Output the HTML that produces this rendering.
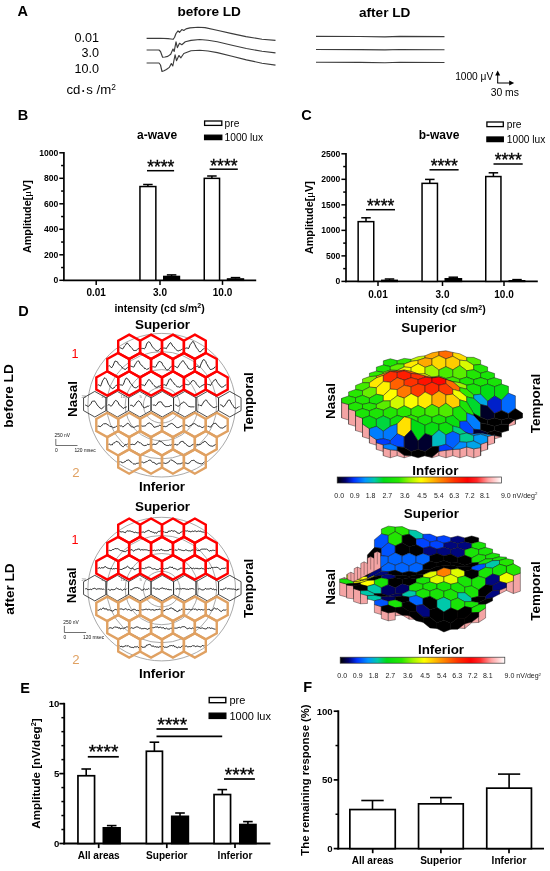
<!DOCTYPE html>
<html lang="en">
<head>
<meta charset="utf-8">
<title>Figure</title>
<style>
html,body{margin:0;padding:0;background:#fff;}
body{width:550px;height:871px;overflow:hidden;}
svg{display:block;font-family:'Liberation Sans', sans-serif;}
</style>
</head>
<body>
<svg width="550" height="871" viewBox="0 0 550 871" font-family="'Liberation Sans', sans-serif">
<rect x="0" y="0" width="550" height="871" fill="#ffffff"/>
<text x="17.50" y="16.39" font-size="14.5" font-weight="bold" text-anchor="start" fill="#000">A</text>
<text x="209.20" y="16.17" font-size="13.6" font-weight="bold" text-anchor="middle" fill="#000">before LD</text>
<text x="384.70" y="17.17" font-size="13.6" font-weight="bold" text-anchor="middle" fill="#000">after LD</text>
<text x="99.00" y="42.01" font-size="12.6" text-anchor="end" fill="#000">0.01</text>
<text x="99.00" y="57.31" font-size="12.6" text-anchor="end" fill="#000">3.0</text>
<text x="99.00" y="73.01" font-size="12.6" text-anchor="end" fill="#000">10.0</text>
<text x="66.50" y="94.30" font-size="13.2" text-anchor="start" fill="#000">cd<tspan font-size="7" dy="-1.6" dx="1.6">&#8226;</tspan><tspan dy="1.6" dx="1.8">s /m</tspan><tspan font-size="8.4" dy="-4.2">2</tspan></text>
<path d="M146.6,38.3 L160.0,38.3 L168.0,38.6 L171.0,39.0 L173.0,39.3 L174.5,37.5 L176.0,33.5 L178.0,30.8 L179.5,32.4 L181.8,29.6 L183.8,30.5 L186.0,28.9 L190.0,27.9 L198.0,27.2 L205.0,27.6 L217.0,30.2 L232.0,33.6 L246.0,36.6 L262.0,39.2 L275.5,40.4" stroke="#3c3c3c" stroke-width="1.15" fill="none" stroke-linejoin="round"/>
<path d="M146.6,50.0 L159.0,50.0 L160.5,51.5 L162.6,57.2 L165.0,57.0 L167.8,56.4 L170.7,54.3 L173.0,49.1 L174.2,51.4 L176.0,41.8 L177.4,47.6 L179.5,43.3 L181.8,44.7 L185.3,41.8 L191.0,40.4 L199.8,39.5 L208.0,40.2 L217.3,41.8 L232.0,45.2 L246.4,48.5 L262.0,51.3 L275.5,52.9" stroke="#3c3c3c" stroke-width="1.15" fill="none" stroke-linejoin="round"/>
<path d="M146.6,63.0 L159.0,63.0 L160.5,65.0 L162.0,71.5 L164.0,70.8 L166.4,69.5 L169.3,67.4 L171.3,63.6 L172.8,66.0 L175.1,54.9 L176.5,60.7 L178.9,55.5 L180.9,57.8 L183.8,53.5 L191.0,50.8 L199.8,50.3 L208.0,51.0 L217.3,52.6 L232.0,56.2 L246.4,59.9 L262.0,63.2 L275.5,65.1" stroke="#3c3c3c" stroke-width="1.15" fill="none" stroke-linejoin="round"/>
<path d="M316,36.4 L360,36.5 L385,36.8 L400,36.4 L444.5,36.6" stroke="#3c3c3c" stroke-width="1.15" fill="none"/>
<path d="M316,49.5 L360,49.6 L385,49.9 L400,49.5 L444.5,49.7" stroke="#3c3c3c" stroke-width="1.15" fill="none"/>
<path d="M316,62.3 L360,62.4 L385,62.699999999999996 L400,62.3 L444.5,62.5" stroke="#3c3c3c" stroke-width="1.15" fill="none"/>
<text x="493.30" y="79.65" font-size="10.2" text-anchor="end" fill="#000">1000 &#956;V</text>
<line x1="497.70" y1="83.00" x2="497.70" y2="74.00" stroke="#000" stroke-width="1" stroke-linecap="butt"/>
<line x1="497.20" y1="83.00" x2="510.00" y2="83.00" stroke="#000" stroke-width="1" stroke-linecap="butt"/>
<polygon points="497.7,70.5 495.2,75.5 500.2,75.5" fill="#000"/>
<polygon points="514.2,83 509.2,80.5 509.2,85.5" fill="#000"/>
<text x="504.80" y="95.52" font-size="10.4" text-anchor="middle" fill="#000">30 ms</text>
<text x="17.80" y="120.39" font-size="14.5" font-weight="bold" text-anchor="start" fill="#000">B</text>
<line x1="63.90" y1="152.05" x2="63.90" y2="281.05" stroke="#000" stroke-width="1.7" stroke-linecap="butt"/>
<line x1="63.05" y1="280.30" x2="256.20" y2="280.30" stroke="#000" stroke-width="1.7" stroke-linecap="butt"/>
<line x1="59.30" y1="280.30" x2="63.90" y2="280.30" stroke="#000" stroke-width="1.5" stroke-linecap="butt"/>
<text x="58.30" y="283.38" font-size="8.6" font-weight="bold" text-anchor="end" fill="#000">0</text>
<line x1="61.10" y1="267.55" x2="63.90" y2="267.55" stroke="#000" stroke-width="1.5" stroke-linecap="butt"/>
<line x1="59.30" y1="254.80" x2="63.90" y2="254.80" stroke="#000" stroke-width="1.5" stroke-linecap="butt"/>
<text x="58.30" y="257.88" font-size="8.6" font-weight="bold" text-anchor="end" fill="#000">200</text>
<line x1="61.10" y1="242.05" x2="63.90" y2="242.05" stroke="#000" stroke-width="1.5" stroke-linecap="butt"/>
<line x1="59.30" y1="229.30" x2="63.90" y2="229.30" stroke="#000" stroke-width="1.5" stroke-linecap="butt"/>
<text x="58.30" y="232.38" font-size="8.6" font-weight="bold" text-anchor="end" fill="#000">400</text>
<line x1="61.10" y1="216.55" x2="63.90" y2="216.55" stroke="#000" stroke-width="1.5" stroke-linecap="butt"/>
<line x1="59.30" y1="203.80" x2="63.90" y2="203.80" stroke="#000" stroke-width="1.5" stroke-linecap="butt"/>
<text x="58.30" y="206.88" font-size="8.6" font-weight="bold" text-anchor="end" fill="#000">600</text>
<line x1="61.10" y1="191.05" x2="63.90" y2="191.05" stroke="#000" stroke-width="1.5" stroke-linecap="butt"/>
<line x1="59.30" y1="178.30" x2="63.90" y2="178.30" stroke="#000" stroke-width="1.5" stroke-linecap="butt"/>
<text x="58.30" y="181.38" font-size="8.6" font-weight="bold" text-anchor="end" fill="#000">800</text>
<line x1="61.10" y1="165.55" x2="63.90" y2="165.55" stroke="#000" stroke-width="1.5" stroke-linecap="butt"/>
<line x1="59.30" y1="152.80" x2="63.90" y2="152.80" stroke="#000" stroke-width="1.5" stroke-linecap="butt"/>
<text x="58.30" y="155.88" font-size="8.6" font-weight="bold" text-anchor="end" fill="#000">1000</text>
<line x1="96.20" y1="280.30" x2="96.20" y2="284.90" stroke="#000" stroke-width="1.5" stroke-linecap="butt"/>
<text x="96.20" y="296.38" font-size="10.0" font-weight="bold" text-anchor="middle" fill="#000">0.01</text>
<line x1="160.00" y1="280.30" x2="160.00" y2="284.90" stroke="#000" stroke-width="1.5" stroke-linecap="butt"/>
<text x="160.00" y="296.38" font-size="10.0" font-weight="bold" text-anchor="middle" fill="#000">3.0</text>
<line x1="222.50" y1="280.30" x2="222.50" y2="284.90" stroke="#000" stroke-width="1.5" stroke-linecap="butt"/>
<text x="222.50" y="296.38" font-size="10.0" font-weight="bold" text-anchor="middle" fill="#000">10.0</text>
<text x="159.60" y="311.80" font-size="10.5" font-weight="bold" text-anchor="middle" fill="#000">intensity (cd s/m<tspan font-size="7" dy="-3.8">2</tspan><tspan dy="3.8">)</tspan></text>
<text x="30.60" y="216.60" font-size="10.8" font-weight="bold" text-anchor="middle" fill="#000" transform="rotate(-90 30.60 216.60)">Amplitude[<tspan font-family="Liberation Serif, serif" font-weight="normal">&#956;</tspan>V]</text>
<text x="157.10" y="138.50" font-size="12.0" font-weight="bold" text-anchor="middle" fill="#000">a-wave</text>
<rect x="204.60" y="121.00" width="17.20" height="4.40" fill="#fff" stroke="#000" stroke-width="1.3"/>
<rect x="204.60" y="135.20" width="17.20" height="4.40" fill="#000" stroke="#000" stroke-width="1.3"/>
<text x="224.60" y="127.25" font-size="10.2" text-anchor="start" fill="#000">pre</text>
<text x="224.60" y="141.25" font-size="10.2" text-anchor="start" fill="#000">1000 lux</text>
<line x1="147.90" y1="186.00" x2="147.90" y2="184.50" stroke="#000" stroke-width="1.5" stroke-linecap="butt"/>
<line x1="143.15" y1="184.50" x2="152.65" y2="184.50" stroke="#000" stroke-width="1.5" stroke-linecap="butt"/>
<rect x="139.95" y="186.55" width="15.90" height="93.75" fill="#fff" stroke="#000" stroke-width="1.5"/>
<line x1="171.60" y1="276.00" x2="171.60" y2="274.90" stroke="#000" stroke-width="1.5" stroke-linecap="butt"/>
<line x1="166.85" y1="274.90" x2="176.35" y2="274.90" stroke="#000" stroke-width="1.5" stroke-linecap="butt"/>
<rect x="163.75" y="276.45" width="15.70" height="3.85" fill="#000" stroke="#000" stroke-width="1.5"/>
<line x1="211.90" y1="178.00" x2="211.90" y2="176.00" stroke="#000" stroke-width="1.5" stroke-linecap="butt"/>
<line x1="207.15" y1="176.00" x2="216.65" y2="176.00" stroke="#000" stroke-width="1.5" stroke-linecap="butt"/>
<rect x="204.25" y="178.35" width="15.30" height="101.95" fill="#fff" stroke="#000" stroke-width="1.5"/>
<line x1="235.50" y1="278.50" x2="235.50" y2="277.60" stroke="#000" stroke-width="1.5" stroke-linecap="butt"/>
<line x1="230.75" y1="277.60" x2="240.25" y2="277.60" stroke="#000" stroke-width="1.5" stroke-linecap="butt"/>
<rect x="227.55" y="278.95" width="15.90" height="1.35" fill="#000" stroke="#000" stroke-width="1.5"/>
<line x1="147.00" y1="170.70" x2="174.10" y2="170.70" stroke="#000" stroke-width="1.5" stroke-linecap="butt"/>
<text x="160.75" y="173.00" font-size="17.5" text-anchor="middle" fill="#000" stroke="#000" stroke-width="0.35">****</text>
<line x1="209.60" y1="169.20" x2="237.80" y2="169.20" stroke="#000" stroke-width="1.5" stroke-linecap="butt"/>
<text x="223.90" y="171.50" font-size="17.5" text-anchor="middle" fill="#000" stroke="#000" stroke-width="0.35">****</text>
<text x="301.30" y="120.39" font-size="14.5" font-weight="bold" text-anchor="start" fill="#000">C</text>
<line x1="346.00" y1="153.05" x2="346.00" y2="282.15" stroke="#000" stroke-width="1.7" stroke-linecap="butt"/>
<line x1="345.15" y1="281.40" x2="537.80" y2="281.40" stroke="#000" stroke-width="1.7" stroke-linecap="butt"/>
<line x1="341.40" y1="281.40" x2="346.00" y2="281.40" stroke="#000" stroke-width="1.5" stroke-linecap="butt"/>
<text x="340.40" y="284.48" font-size="8.6" font-weight="bold" text-anchor="end" fill="#000">0</text>
<line x1="343.20" y1="268.64" x2="346.00" y2="268.64" stroke="#000" stroke-width="1.5" stroke-linecap="butt"/>
<line x1="341.40" y1="255.88" x2="346.00" y2="255.88" stroke="#000" stroke-width="1.5" stroke-linecap="butt"/>
<text x="340.40" y="258.96" font-size="8.6" font-weight="bold" text-anchor="end" fill="#000">500</text>
<line x1="343.20" y1="243.12" x2="346.00" y2="243.12" stroke="#000" stroke-width="1.5" stroke-linecap="butt"/>
<line x1="341.40" y1="230.36" x2="346.00" y2="230.36" stroke="#000" stroke-width="1.5" stroke-linecap="butt"/>
<text x="340.40" y="233.44" font-size="8.6" font-weight="bold" text-anchor="end" fill="#000">1000</text>
<line x1="343.20" y1="217.60" x2="346.00" y2="217.60" stroke="#000" stroke-width="1.5" stroke-linecap="butt"/>
<line x1="341.40" y1="204.84" x2="346.00" y2="204.84" stroke="#000" stroke-width="1.5" stroke-linecap="butt"/>
<text x="340.40" y="207.92" font-size="8.6" font-weight="bold" text-anchor="end" fill="#000">1500</text>
<line x1="343.20" y1="192.08" x2="346.00" y2="192.08" stroke="#000" stroke-width="1.5" stroke-linecap="butt"/>
<line x1="341.40" y1="179.32" x2="346.00" y2="179.32" stroke="#000" stroke-width="1.5" stroke-linecap="butt"/>
<text x="340.40" y="182.40" font-size="8.6" font-weight="bold" text-anchor="end" fill="#000">2000</text>
<line x1="343.20" y1="166.56" x2="346.00" y2="166.56" stroke="#000" stroke-width="1.5" stroke-linecap="butt"/>
<line x1="341.40" y1="153.80" x2="346.00" y2="153.80" stroke="#000" stroke-width="1.5" stroke-linecap="butt"/>
<text x="340.40" y="156.88" font-size="8.6" font-weight="bold" text-anchor="end" fill="#000">2500</text>
<line x1="378.00" y1="281.40" x2="378.00" y2="286.00" stroke="#000" stroke-width="1.5" stroke-linecap="butt"/>
<text x="378.00" y="297.98" font-size="10.0" font-weight="bold" text-anchor="middle" fill="#000">0.01</text>
<line x1="442.50" y1="281.40" x2="442.50" y2="286.00" stroke="#000" stroke-width="1.5" stroke-linecap="butt"/>
<text x="442.50" y="297.98" font-size="10.0" font-weight="bold" text-anchor="middle" fill="#000">3.0</text>
<line x1="504.00" y1="281.40" x2="504.00" y2="286.00" stroke="#000" stroke-width="1.5" stroke-linecap="butt"/>
<text x="504.00" y="297.98" font-size="10.0" font-weight="bold" text-anchor="middle" fill="#000">10.0</text>
<text x="440.50" y="313.40" font-size="10.5" font-weight="bold" text-anchor="middle" fill="#000">intensity (cd s/m<tspan font-size="7" dy="-3.8">2</tspan><tspan dy="3.8">)</tspan></text>
<text x="312.60" y="217.60" font-size="10.8" font-weight="bold" text-anchor="middle" fill="#000" transform="rotate(-90 312.60 217.60)">Amplitude[<tspan font-family="Liberation Serif, serif" font-weight="normal">&#956;</tspan>V]</text>
<text x="439.00" y="139.20" font-size="12.0" font-weight="bold" text-anchor="middle" fill="#000">b-wave</text>
<rect x="486.90" y="122.00" width="16.40" height="4.60" fill="#fff" stroke="#000" stroke-width="1.3"/>
<rect x="486.90" y="137.00" width="16.40" height="4.60" fill="#000" stroke="#000" stroke-width="1.3"/>
<text x="506.80" y="128.05" font-size="10.2" text-anchor="start" fill="#000">pre</text>
<text x="506.80" y="142.85" font-size="10.2" text-anchor="start" fill="#000">1000 lux</text>
<line x1="366.00" y1="221.50" x2="366.00" y2="217.80" stroke="#000" stroke-width="1.5" stroke-linecap="butt"/>
<line x1="361.25" y1="217.80" x2="370.75" y2="217.80" stroke="#000" stroke-width="1.5" stroke-linecap="butt"/>
<rect x="358.15" y="221.65" width="15.60" height="59.75" fill="#fff" stroke="#000" stroke-width="1.5"/>
<line x1="389.50" y1="280.00" x2="389.50" y2="279.00" stroke="#000" stroke-width="1.5" stroke-linecap="butt"/>
<line x1="384.75" y1="279.00" x2="394.25" y2="279.00" stroke="#000" stroke-width="1.5" stroke-linecap="butt"/>
<rect x="381.75" y="280.35" width="15.50" height="1.05" fill="#000" stroke="#000" stroke-width="1.5"/>
<line x1="429.80" y1="183.00" x2="429.80" y2="179.40" stroke="#000" stroke-width="1.5" stroke-linecap="butt"/>
<line x1="425.05" y1="179.40" x2="434.55" y2="179.40" stroke="#000" stroke-width="1.5" stroke-linecap="butt"/>
<rect x="422.05" y="183.35" width="15.40" height="98.05" fill="#fff" stroke="#000" stroke-width="1.5"/>
<line x1="453.30" y1="278.50" x2="453.30" y2="277.20" stroke="#000" stroke-width="1.5" stroke-linecap="butt"/>
<line x1="448.55" y1="277.20" x2="458.05" y2="277.20" stroke="#000" stroke-width="1.5" stroke-linecap="butt"/>
<rect x="445.25" y="278.75" width="16.20" height="2.65" fill="#000" stroke="#000" stroke-width="1.5"/>
<line x1="493.40" y1="176.00" x2="493.40" y2="172.80" stroke="#000" stroke-width="1.5" stroke-linecap="butt"/>
<line x1="488.65" y1="172.80" x2="498.15" y2="172.80" stroke="#000" stroke-width="1.5" stroke-linecap="butt"/>
<rect x="485.75" y="176.55" width="15.20" height="104.85" fill="#fff" stroke="#000" stroke-width="1.5"/>
<line x1="517.00" y1="280.50" x2="517.00" y2="279.60" stroke="#000" stroke-width="1.5" stroke-linecap="butt"/>
<line x1="512.25" y1="279.60" x2="521.75" y2="279.60" stroke="#000" stroke-width="1.5" stroke-linecap="butt"/>
<rect x="509.25" y="280.75" width="15.40" height="0.65" fill="#000" stroke="#000" stroke-width="1.5"/>
<line x1="366.00" y1="209.70" x2="395.00" y2="209.70" stroke="#000" stroke-width="1.5" stroke-linecap="butt"/>
<text x="380.70" y="212.00" font-size="17.5" text-anchor="middle" fill="#000" stroke="#000" stroke-width="0.35">****</text>
<line x1="429.50" y1="169.80" x2="458.60" y2="169.80" stroke="#000" stroke-width="1.5" stroke-linecap="butt"/>
<text x="444.25" y="172.10" font-size="17.5" text-anchor="middle" fill="#000" stroke="#000" stroke-width="0.35">****</text>
<line x1="493.50" y1="164.00" x2="522.70" y2="164.00" stroke="#000" stroke-width="1.5" stroke-linecap="butt"/>
<text x="508.30" y="166.30" font-size="17.5" text-anchor="middle" fill="#000" stroke="#000" stroke-width="0.35">****</text>
<text x="18.20" y="315.99" font-size="14.5" font-weight="bold" text-anchor="start" fill="#000">D</text>
<g fill="none" stroke="#8c8c8c" stroke-width="0.75">
<ellipse cx="161.7" cy="405.2" rx="18.3" ry="17.8"/>
<ellipse cx="161.7" cy="405.2" rx="36.5" ry="35.6"/>
<ellipse cx="161.7" cy="405.2" rx="55" ry="53.6"/>
<ellipse cx="161.7" cy="405.2" rx="73.8" ry="71.8"/>
</g>
<text x="81.50" y="397.50" font-size="4.2" text-anchor="start" fill="#777">20</text>
<text x="101.00" y="397.50" font-size="4.2" text-anchor="start" fill="#777">15</text>
<text x="120.50" y="397.50" font-size="4.2" text-anchor="start" fill="#777">10</text>
<text x="139.50" y="397.50" font-size="4.2" text-anchor="start" fill="#777">5</text>
<polygon points="94.80,391.40 106.05,397.80 106.05,410.60 94.80,417.00 83.55,410.60 83.55,397.80" fill="none" stroke="#2a2a2a" stroke-width="0.85" stroke-linejoin="miter"/>
<polygon points="117.30,391.40 128.55,397.80 128.55,410.60 117.30,417.00 106.05,410.60 106.05,397.80" fill="none" stroke="#2a2a2a" stroke-width="0.85" stroke-linejoin="miter"/>
<polygon points="139.80,391.40 151.05,397.80 151.05,410.60 139.80,417.00 128.55,410.60 128.55,397.80" fill="none" stroke="#2a2a2a" stroke-width="0.85" stroke-linejoin="miter"/>
<polygon points="162.30,391.40 173.55,397.80 173.55,410.60 162.30,417.00 151.05,410.60 151.05,397.80" fill="none" stroke="#2a2a2a" stroke-width="0.85" stroke-linejoin="miter"/>
<polygon points="184.80,391.40 196.05,397.80 196.05,410.60 184.80,417.00 173.55,410.60 173.55,397.80" fill="none" stroke="#2a2a2a" stroke-width="0.85" stroke-linejoin="miter"/>
<polygon points="207.30,391.40 218.55,397.80 218.55,410.60 207.30,417.00 196.05,410.60 196.05,397.80" fill="none" stroke="#2a2a2a" stroke-width="0.85" stroke-linejoin="miter"/>
<polygon points="229.80,391.40 241.05,397.80 241.05,410.60 229.80,417.00 218.55,410.60 218.55,397.80" fill="none" stroke="#2a2a2a" stroke-width="0.85" stroke-linejoin="miter"/>
<polygon points="107.25,412.75 118.20,418.85 118.20,431.05 107.25,437.15 96.30,431.05 96.30,418.85" fill="none" stroke="#e0a162" stroke-width="2.4" stroke-linejoin="miter"/>
<polygon points="129.15,412.75 140.10,418.85 140.10,431.05 129.15,437.15 118.20,431.05 118.20,418.85" fill="none" stroke="#e0a162" stroke-width="2.4" stroke-linejoin="miter"/>
<polygon points="151.05,412.75 162.00,418.85 162.00,431.05 151.05,437.15 140.10,431.05 140.10,418.85" fill="none" stroke="#e0a162" stroke-width="2.4" stroke-linejoin="miter"/>
<polygon points="172.95,412.75 183.90,418.85 183.90,431.05 172.95,437.15 162.00,431.05 162.00,418.85" fill="none" stroke="#e0a162" stroke-width="2.4" stroke-linejoin="miter"/>
<polygon points="194.85,412.75 205.80,418.85 205.80,431.05 194.85,437.15 183.90,431.05 183.90,418.85" fill="none" stroke="#e0a162" stroke-width="2.4" stroke-linejoin="miter"/>
<polygon points="216.75,412.75 227.70,418.85 227.70,431.05 216.75,437.15 205.80,431.05 205.80,418.85" fill="none" stroke="#e0a162" stroke-width="2.4" stroke-linejoin="miter"/>
<polygon points="118.20,431.05 129.15,437.15 129.15,449.35 118.20,455.45 107.25,449.35 107.25,437.15" fill="none" stroke="#e0a162" stroke-width="2.4" stroke-linejoin="miter"/>
<polygon points="140.10,431.05 151.05,437.15 151.05,449.35 140.10,455.45 129.15,449.35 129.15,437.15" fill="none" stroke="#e0a162" stroke-width="2.4" stroke-linejoin="miter"/>
<polygon points="162.00,431.05 172.95,437.15 172.95,449.35 162.00,455.45 151.05,449.35 151.05,437.15" fill="none" stroke="#e0a162" stroke-width="2.4" stroke-linejoin="miter"/>
<polygon points="183.90,431.05 194.85,437.15 194.85,449.35 183.90,455.45 172.95,449.35 172.95,437.15" fill="none" stroke="#e0a162" stroke-width="2.4" stroke-linejoin="miter"/>
<polygon points="205.80,431.05 216.75,437.15 216.75,449.35 205.80,455.45 194.85,449.35 194.85,437.15" fill="none" stroke="#e0a162" stroke-width="2.4" stroke-linejoin="miter"/>
<polygon points="129.15,449.35 140.10,455.45 140.10,467.65 129.15,473.75 118.20,467.65 118.20,455.45" fill="none" stroke="#e0a162" stroke-width="2.4" stroke-linejoin="miter"/>
<polygon points="151.05,449.35 162.00,455.45 162.00,467.65 151.05,473.75 140.10,467.65 140.10,455.45" fill="none" stroke="#e0a162" stroke-width="2.4" stroke-linejoin="miter"/>
<polygon points="172.95,449.35 183.90,455.45 183.90,467.65 172.95,473.75 162.00,467.65 162.00,455.45" fill="none" stroke="#e0a162" stroke-width="2.4" stroke-linejoin="miter"/>
<polygon points="194.85,449.35 205.80,455.45 205.80,467.65 194.85,473.75 183.90,467.65 183.90,455.45" fill="none" stroke="#e0a162" stroke-width="2.4" stroke-linejoin="miter"/>
<polygon points="129.15,334.65 140.10,340.75 140.10,352.95 129.15,359.05 118.20,352.95 118.20,340.75" fill="none" stroke="#ff0000" stroke-width="2.4" stroke-linejoin="miter"/>
<polygon points="151.05,334.65 162.00,340.75 162.00,352.95 151.05,359.05 140.10,352.95 140.10,340.75" fill="none" stroke="#ff0000" stroke-width="2.4" stroke-linejoin="miter"/>
<polygon points="172.95,334.65 183.90,340.75 183.90,352.95 172.95,359.05 162.00,352.95 162.00,340.75" fill="none" stroke="#ff0000" stroke-width="2.4" stroke-linejoin="miter"/>
<polygon points="194.85,334.65 205.80,340.75 205.80,352.95 194.85,359.05 183.90,352.95 183.90,340.75" fill="none" stroke="#ff0000" stroke-width="2.4" stroke-linejoin="miter"/>
<polygon points="118.20,352.95 129.15,359.05 129.15,371.25 118.20,377.35 107.25,371.25 107.25,359.05" fill="none" stroke="#ff0000" stroke-width="2.4" stroke-linejoin="miter"/>
<polygon points="140.10,352.95 151.05,359.05 151.05,371.25 140.10,377.35 129.15,371.25 129.15,359.05" fill="none" stroke="#ff0000" stroke-width="2.4" stroke-linejoin="miter"/>
<polygon points="162.00,352.95 172.95,359.05 172.95,371.25 162.00,377.35 151.05,371.25 151.05,359.05" fill="none" stroke="#ff0000" stroke-width="2.4" stroke-linejoin="miter"/>
<polygon points="183.90,352.95 194.85,359.05 194.85,371.25 183.90,377.35 172.95,371.25 172.95,359.05" fill="none" stroke="#ff0000" stroke-width="2.4" stroke-linejoin="miter"/>
<polygon points="205.80,352.95 216.75,359.05 216.75,371.25 205.80,377.35 194.85,371.25 194.85,359.05" fill="none" stroke="#ff0000" stroke-width="2.4" stroke-linejoin="miter"/>
<polygon points="107.25,371.25 118.20,377.35 118.20,389.55 107.25,395.65 96.30,389.55 96.30,377.35" fill="none" stroke="#ff0000" stroke-width="2.4" stroke-linejoin="miter"/>
<polygon points="129.15,371.25 140.10,377.35 140.10,389.55 129.15,395.65 118.20,389.55 118.20,377.35" fill="none" stroke="#ff0000" stroke-width="2.4" stroke-linejoin="miter"/>
<polygon points="151.05,371.25 162.00,377.35 162.00,389.55 151.05,395.65 140.10,389.55 140.10,377.35" fill="none" stroke="#ff0000" stroke-width="2.4" stroke-linejoin="miter"/>
<polygon points="172.95,371.25 183.90,377.35 183.90,389.55 172.95,395.65 162.00,389.55 162.00,377.35" fill="none" stroke="#ff0000" stroke-width="2.4" stroke-linejoin="miter"/>
<polygon points="194.85,371.25 205.80,377.35 205.80,389.55 194.85,395.65 183.90,389.55 183.90,377.35" fill="none" stroke="#ff0000" stroke-width="2.4" stroke-linejoin="miter"/>
<polygon points="216.75,371.25 227.70,377.35 227.70,389.55 216.75,395.65 205.80,389.55 205.80,377.35" fill="none" stroke="#ff0000" stroke-width="2.4" stroke-linejoin="miter"/>
<path d="M85.2,405.1 L85.9,405.2 L86.7,405.7 L87.4,406.1 L88.2,406.5 L88.9,405.9 L89.6,405.4 L90.4,404.3 L91.1,403.5 L91.8,401.9 L92.6,401.0 L93.3,401.2 L94.1,400.8 L94.8,401.2 L95.5,402.3 L96.3,403.3 L97.0,404.7 L97.8,405.8 L98.5,406.3 L99.2,407.3 L100.0,408.0 L100.7,408.4 L101.4,408.8 L102.2,408.3 L102.9,407.8 L103.7,406.7 L104.4,406.2" stroke="#000" stroke-width="0.85" fill="none" stroke-linejoin="round"/>
<path d="M107.7,405.3 L108.4,404.8 L109.2,404.8 L109.9,405.3 L110.7,406.0 L111.4,406.1 L112.1,405.2 L112.9,404.1 L113.6,403.2 L114.3,401.6 L115.1,400.9 L115.8,400.3 L116.6,400.9 L117.3,401.3 L118.0,402.2 L118.8,404.1 L119.5,405.2 L120.3,405.5 L121.0,406.5 L121.7,406.8 L122.5,407.7 L123.2,408.5 L123.9,408.1 L124.7,407.5 L125.4,407.3 L126.2,407.1 L126.9,406.5" stroke="#000" stroke-width="0.85" fill="none" stroke-linejoin="round"/>
<path d="M130.2,405.2 L130.9,405.5 L131.7,405.0 L132.4,405.9 L133.2,406.5 L133.9,406.3 L134.6,405.5 L135.4,404.1 L136.1,403.5 L136.8,402.1 L137.6,401.5 L138.3,400.8 L139.1,401.1 L139.8,401.9 L140.5,402.4 L141.3,403.6 L142.0,405.4 L142.8,406.2 L143.5,407.4 L144.2,407.9 L145.0,407.5 L145.7,407.2 L146.4,407.2 L147.2,406.1 L147.9,406.2 L148.7,406.2 L149.4,405.6" stroke="#000" stroke-width="0.85" fill="none" stroke-linejoin="round"/>
<path d="M152.7,404.9 L153.4,405.1 L154.2,404.9 L154.9,405.3 L155.7,405.7 L156.4,404.8 L157.1,404.0 L157.9,403.0 L158.6,401.9 L159.3,401.9 L160.1,402.0 L160.8,401.7 L161.6,402.2 L162.3,403.6 L163.0,404.9 L163.8,405.4 L164.5,405.8 L165.3,406.9 L166.0,406.8 L166.7,406.6 L167.5,406.6 L168.2,406.5 L168.9,406.5 L169.7,406.4 L170.4,405.4 L171.2,405.6 L171.9,405.3" stroke="#000" stroke-width="0.85" fill="none" stroke-linejoin="round"/>
<path d="M175.2,405.1 L175.9,404.8 L176.7,405.5 L177.4,406.0 L178.2,406.4 L178.9,405.9 L179.6,405.1 L180.4,404.7 L181.1,403.5 L181.8,403.2 L182.6,402.8 L183.3,402.2 L184.1,401.9 L184.8,402.6 L185.5,403.3 L186.3,404.0 L187.0,404.6 L187.8,405.7 L188.5,406.4 L189.2,406.5 L190.0,406.6 L190.7,406.9 L191.4,406.9 L192.2,406.8 L192.9,406.9 L193.7,406.9 L194.4,406.8" stroke="#000" stroke-width="0.85" fill="none" stroke-linejoin="round"/>
<path d="M197.7,405.0 L198.4,405.0 L199.2,404.8 L199.9,405.5 L200.7,405.5 L201.4,405.9 L202.1,404.6 L202.9,403.3 L203.6,402.1 L204.3,401.1 L205.1,400.4 L205.8,400.0 L206.6,400.2 L207.3,401.4 L208.0,402.4 L208.8,403.3 L209.5,404.1 L210.3,405.2 L211.0,405.7 L211.7,406.2 L212.5,406.9 L213.2,407.3 L213.9,407.7 L214.7,407.5 L215.4,407.1 L216.2,407.1 L216.9,406.3" stroke="#000" stroke-width="0.85" fill="none" stroke-linejoin="round"/>
<path d="M220.2,404.7 L220.9,404.9 L221.7,405.3 L222.4,405.6 L223.2,407.0 L223.9,406.5 L224.6,405.9 L225.4,404.6 L226.1,403.5 L226.8,402.5 L227.6,401.0 L228.3,400.2 L229.1,399.9 L229.8,400.0 L230.5,401.5 L231.3,403.2 L232.0,404.4 L232.8,405.2 L233.5,406.6 L234.2,407.7 L235.0,407.8 L235.7,408.1 L236.4,408.3 L237.2,407.6 L237.9,407.5 L238.7,406.7 L239.4,406.6" stroke="#000" stroke-width="0.85" fill="none" stroke-linejoin="round"/>
<path d="M97.7,426.3 L98.4,426.1 L99.1,426.2 L99.9,426.6 L100.6,426.6 L101.3,425.9 L102.1,425.0 L102.8,424.5 L103.6,423.7 L104.3,423.8 L105.0,423.8 L105.8,423.6 L106.5,423.9 L107.2,424.4 L108.0,424.9 L108.7,425.3 L109.5,425.9 L110.2,426.6 L110.9,426.5 L111.7,426.4 L112.4,427.0 L113.2,427.6 L113.9,427.9 L114.6,427.0 L115.4,427.2 L116.1,426.4 L116.9,426.1" stroke="#000" stroke-width="0.85" fill="none" stroke-linejoin="round"/>
<path d="M119.6,425.7 L120.3,426.1 L121.0,425.5 L121.8,426.1 L122.5,426.7 L123.2,426.9 L124.0,426.0 L124.7,425.5 L125.5,425.0 L126.2,424.4 L126.9,423.8 L127.7,423.3 L128.4,423.5 L129.2,424.5 L129.9,425.0 L130.6,426.0 L131.4,426.9 L132.1,427.0 L132.8,426.9 L133.6,427.3 L134.3,427.3 L135.1,427.0 L135.8,426.4 L136.5,426.2 L137.3,426.0 L138.0,425.8 L138.8,426.1" stroke="#000" stroke-width="0.85" fill="none" stroke-linejoin="round"/>
<path d="M141.5,425.9 L142.2,426.2 L142.9,426.1 L143.7,426.1 L144.4,426.0 L145.1,426.1 L145.9,425.4 L146.6,424.5 L147.4,424.0 L148.1,423.2 L148.8,423.2 L149.6,422.9 L150.3,423.5 L151.1,423.7 L151.8,424.2 L152.5,425.3 L153.3,426.1 L154.0,427.3 L154.7,427.2 L155.5,427.0 L156.2,426.7 L157.0,426.7 L157.7,426.2 L158.4,426.2 L159.2,425.5 L159.9,425.2 L160.7,425.6" stroke="#000" stroke-width="0.85" fill="none" stroke-linejoin="round"/>
<path d="M163.3,426.4 L164.1,426.8 L164.8,426.2 L165.6,426.7 L166.3,426.4 L167.0,426.4 L167.8,425.7 L168.5,424.6 L169.3,424.4 L170.0,424.2 L170.7,423.7 L171.5,423.4 L172.2,423.5 L172.9,424.1 L173.7,424.5 L174.4,425.5 L175.2,425.8 L175.9,426.9 L176.6,427.5 L177.4,427.6 L178.1,427.8 L178.9,427.3 L179.6,427.0 L180.3,426.7 L181.1,426.0 L181.8,425.8 L182.5,425.9" stroke="#000" stroke-width="0.85" fill="none" stroke-linejoin="round"/>
<path d="M185.2,425.2 L186.0,424.9 L186.7,425.3 L187.5,425.7 L188.2,426.6 L188.9,426.5 L189.7,426.0 L190.4,425.5 L191.2,425.6 L191.9,424.4 L192.6,424.1 L193.4,423.9 L194.1,423.5 L194.8,423.7 L195.6,424.3 L196.3,424.6 L197.1,425.6 L197.8,425.8 L198.5,426.2 L199.3,426.1 L200.0,426.2 L200.8,427.0 L201.5,427.3 L202.2,427.6 L203.0,427.4 L203.7,426.8 L204.4,426.3" stroke="#000" stroke-width="0.85" fill="none" stroke-linejoin="round"/>
<path d="M207.2,425.8 L207.9,426.5 L208.6,426.2 L209.4,427.0 L210.1,427.3 L210.8,427.0 L211.6,425.6 L212.3,424.9 L213.1,424.1 L213.8,423.3 L214.5,423.4 L215.3,423.0 L216.0,423.9 L216.8,424.4 L217.5,425.3 L218.2,426.2 L219.0,426.7 L219.7,427.3 L220.4,427.8 L221.2,428.0 L221.9,427.9 L222.7,428.1 L223.4,427.8 L224.1,427.1 L224.9,426.5 L225.6,426.1 L226.3,425.6" stroke="#000" stroke-width="0.85" fill="none" stroke-linejoin="round"/>
<path d="M108.6,444.3 L109.3,444.1 L110.1,444.5 L110.8,445.0 L111.6,444.7 L112.3,444.9 L113.0,443.6 L113.8,442.7 L114.5,442.8 L115.2,442.4 L116.0,441.4 L116.7,441.4 L117.5,441.8 L118.2,441.8 L118.9,442.7 L119.7,443.4 L120.4,444.8 L121.2,445.6 L121.9,445.8 L122.6,446.6 L123.4,446.7 L124.1,446.0 L124.8,445.2 L125.6,444.4 L126.3,444.7 L127.1,444.3 L127.8,443.8" stroke="#000" stroke-width="0.85" fill="none" stroke-linejoin="round"/>
<path d="M130.5,444.5 L131.2,444.6 L132.0,444.2 L132.7,444.3 L133.5,444.5 L134.2,444.7 L134.9,444.3 L135.7,443.9 L136.4,442.8 L137.1,441.9 L137.9,441.4 L138.6,442.0 L139.4,442.7 L140.1,442.5 L140.8,443.3 L141.6,443.7 L142.3,444.7 L143.1,445.2 L143.8,445.4 L144.5,445.6 L145.3,445.4 L146.0,445.7 L146.7,444.9 L147.5,444.3 L148.2,444.6 L149.0,444.5 L149.7,444.2" stroke="#000" stroke-width="0.85" fill="none" stroke-linejoin="round"/>
<path d="M152.4,444.8 L153.1,444.3 L153.9,444.2 L154.6,444.4 L155.4,444.5 L156.1,444.4 L156.8,443.8 L157.6,442.9 L158.3,442.3 L159.0,441.3 L159.8,441.0 L160.5,441.6 L161.3,441.6 L162.0,442.2 L162.7,442.8 L163.5,443.4 L164.2,444.4 L165.0,444.7 L165.7,445.0 L166.4,445.4 L167.2,445.5 L167.9,445.4 L168.6,445.5 L169.4,445.0 L170.1,445.3 L170.9,445.0 L171.6,444.7" stroke="#000" stroke-width="0.85" fill="none" stroke-linejoin="round"/>
<path d="M174.3,444.8 L175.0,444.3 L175.8,444.4 L176.5,444.9 L177.3,444.9 L178.0,444.6 L178.7,443.9 L179.5,443.3 L180.2,442.1 L180.9,441.7 L181.7,441.4 L182.4,441.4 L183.2,441.4 L183.9,442.8 L184.6,443.2 L185.4,443.5 L186.1,444.4 L186.9,445.0 L187.6,445.8 L188.3,446.2 L189.1,446.3 L189.8,446.5 L190.5,446.3 L191.3,445.4 L192.0,445.0 L192.8,444.7 L193.5,443.9" stroke="#000" stroke-width="0.85" fill="none" stroke-linejoin="round"/>
<path d="M196.2,445.0 L196.9,444.7 L197.7,444.3 L198.4,445.0 L199.2,444.6 L199.9,444.9 L200.6,444.1 L201.4,443.8 L202.1,443.1 L202.8,442.3 L203.6,442.3 L204.3,441.3 L205.1,441.4 L205.8,441.8 L206.5,442.4 L207.3,443.4 L208.0,444.4 L208.8,444.8 L209.5,445.3 L210.2,446.0 L211.0,445.9 L211.7,446.1 L212.4,446.3 L213.2,445.9 L213.9,445.6 L214.7,445.2 L215.4,444.3" stroke="#000" stroke-width="0.85" fill="none" stroke-linejoin="round"/>
<path d="M119.6,461.9 L120.3,461.6 L121.0,462.4 L121.8,462.1 L122.5,462.7 L123.2,462.7 L124.0,461.8 L124.7,461.9 L125.5,461.5 L126.2,460.6 L126.9,460.2 L127.7,460.2 L128.4,459.9 L129.2,460.1 L129.9,460.8 L130.6,461.9 L131.4,462.2 L132.1,462.7 L132.8,463.4 L133.6,464.0 L134.3,463.9 L135.1,464.2 L135.8,463.9 L136.5,463.4 L137.3,463.3 L138.0,463.3 L138.8,463.0" stroke="#000" stroke-width="0.85" fill="none" stroke-linejoin="round"/>
<path d="M141.5,462.1 L142.2,462.0 L142.9,462.4 L143.7,462.9 L144.4,462.6 L145.1,462.3 L145.9,461.8 L146.6,461.6 L147.4,461.4 L148.1,460.7 L148.8,460.3 L149.6,460.1 L150.3,460.2 L151.1,460.5 L151.8,461.6 L152.5,462.4 L153.3,462.3 L154.0,462.6 L154.7,462.8 L155.5,463.9 L156.2,464.3 L157.0,464.2 L157.7,463.8 L158.4,463.3 L159.2,463.4 L159.9,462.9 L160.7,463.2" stroke="#000" stroke-width="0.85" fill="none" stroke-linejoin="round"/>
<path d="M163.3,463.0 L164.1,463.0 L164.8,463.3 L165.6,463.5 L166.3,463.3 L167.0,462.8 L167.8,462.7 L168.5,462.3 L169.3,461.2 L170.0,460.5 L170.7,459.8 L171.5,460.1 L172.2,460.2 L172.9,460.8 L173.7,461.0 L174.4,461.9 L175.2,462.4 L175.9,462.6 L176.6,463.5 L177.4,463.9 L178.1,463.9 L178.9,463.7 L179.6,463.8 L180.3,463.8 L181.1,463.8 L181.8,462.8 L182.5,463.0" stroke="#000" stroke-width="0.85" fill="none" stroke-linejoin="round"/>
<path d="M185.2,463.1 L186.0,462.8 L186.7,463.3 L187.5,463.6 L188.2,463.3 L188.9,463.4 L189.7,462.7 L190.4,461.6 L191.2,460.8 L191.9,460.5 L192.6,460.5 L193.4,460.3 L194.1,460.2 L194.8,460.9 L195.6,461.9 L196.3,462.1 L197.1,462.7 L197.8,462.9 L198.5,463.1 L199.3,463.4 L200.0,463.9 L200.8,463.7 L201.5,463.9 L202.2,463.7 L203.0,463.3 L203.7,462.4 L204.4,461.9" stroke="#000" stroke-width="0.85" fill="none" stroke-linejoin="round"/>
<path d="M119.6,347.6 L120.3,347.8 L121.0,348.2 L121.8,348.5 L122.5,348.8 L123.2,348.5 L124.0,346.9 L124.7,345.8 L125.5,345.1 L126.2,343.8 L126.9,342.9 L127.7,343.3 L128.4,344.4 L129.2,345.1 L129.9,346.1 L130.6,347.0 L131.4,347.6 L132.1,348.5 L132.8,349.2 L133.6,350.5 L134.3,350.6 L135.1,350.3 L135.8,350.6 L136.5,350.4 L137.3,349.4 L138.0,348.5 L138.8,348.8" stroke="#000" stroke-width="0.85" fill="none" stroke-linejoin="round"/>
<path d="M141.5,348.4 L142.2,348.6 L142.9,348.2 L143.7,348.6 L144.4,348.8 L145.1,348.2 L145.9,346.4 L146.6,344.1 L147.4,342.7 L148.1,342.0 L148.8,341.8 L149.6,342.1 L150.3,343.2 L151.1,344.3 L151.8,345.9 L152.5,346.8 L153.3,347.8 L154.0,348.5 L154.7,349.3 L155.5,350.1 L156.2,350.6 L157.0,350.8 L157.7,350.9 L158.4,350.6 L159.2,349.7 L159.9,348.8 L160.7,348.4" stroke="#000" stroke-width="0.85" fill="none" stroke-linejoin="round"/>
<path d="M163.3,348.0 L164.1,348.1 L164.8,348.1 L165.6,348.3 L166.3,348.7 L167.0,347.3 L167.8,346.3 L168.5,344.9 L169.3,344.0 L170.0,343.0 L170.7,342.6 L171.5,343.7 L172.2,345.1 L172.9,346.1 L173.7,346.9 L174.4,347.3 L175.2,348.7 L175.9,349.5 L176.6,350.1 L177.4,350.6 L178.1,351.0 L178.9,350.7 L179.6,350.4 L180.3,350.3 L181.1,349.9 L181.8,349.3 L182.5,349.0" stroke="#000" stroke-width="0.85" fill="none" stroke-linejoin="round"/>
<path d="M185.2,348.2 L186.0,348.4 L186.7,347.9 L187.5,347.9 L188.2,348.8 L188.9,348.0 L189.7,345.8 L190.4,344.3 L191.2,343.3 L191.9,342.7 L192.6,341.5 L193.4,341.7 L194.1,343.1 L194.8,344.5 L195.6,346.1 L196.3,347.7 L197.1,348.3 L197.8,349.3 L198.5,350.6 L199.3,351.7 L200.0,351.8 L200.8,351.7 L201.5,350.7 L202.2,349.9 L203.0,349.1 L203.7,348.8 L204.4,348.5" stroke="#000" stroke-width="0.85" fill="none" stroke-linejoin="round"/>
<path d="M108.6,366.0 L109.3,365.7 L110.1,366.4 L110.8,366.9 L111.6,367.8 L112.3,366.8 L113.0,365.8 L113.8,363.7 L114.5,362.1 L115.2,361.0 L116.0,361.2 L116.7,361.6 L117.5,361.9 L118.2,363.4 L118.9,364.3 L119.7,365.2 L120.4,365.5 L121.2,366.4 L121.9,367.0 L122.6,368.2 L123.4,368.6 L124.1,369.3 L124.8,369.0 L125.6,369.4 L126.3,368.4 L127.1,368.1 L127.8,367.3" stroke="#000" stroke-width="0.85" fill="none" stroke-linejoin="round"/>
<path d="M130.5,366.0 L131.2,366.3 L132.0,366.5 L132.7,366.8 L133.5,367.0 L134.2,366.7 L134.9,364.8 L135.7,363.7 L136.4,362.5 L137.1,361.5 L137.9,360.7 L138.6,361.0 L139.4,362.0 L140.1,363.7 L140.8,364.7 L141.6,365.2 L142.3,366.1 L143.1,366.6 L143.8,367.3 L144.5,368.6 L145.3,368.5 L146.0,368.8 L146.7,369.5 L147.5,369.1 L148.2,368.9 L149.0,368.3 L149.7,367.6" stroke="#000" stroke-width="0.85" fill="none" stroke-linejoin="round"/>
<path d="M152.4,366.7 L153.1,367.0 L153.9,366.6 L154.6,367.1 L155.4,367.0 L156.1,366.5 L156.8,364.8 L157.6,363.7 L158.3,362.1 L159.0,361.7 L159.8,361.4 L160.5,361.8 L161.3,362.1 L162.0,363.0 L162.7,364.7 L163.5,365.9 L164.2,366.6 L165.0,367.7 L165.7,369.0 L166.4,369.7 L167.2,370.0 L167.9,369.9 L168.6,369.2 L169.4,368.7 L170.1,367.3 L170.9,366.8 L171.6,366.3" stroke="#000" stroke-width="0.85" fill="none" stroke-linejoin="round"/>
<path d="M174.3,366.1 L175.0,366.2 L175.8,366.8 L176.5,367.3 L177.3,367.8 L178.0,367.1 L178.7,365.8 L179.5,364.6 L180.2,363.5 L180.9,362.8 L181.7,361.7 L182.4,360.9 L183.2,360.6 L183.9,361.7 L184.6,362.7 L185.4,363.9 L186.1,364.8 L186.9,365.7 L187.6,366.9 L188.3,368.4 L189.1,368.9 L189.8,369.1 L190.5,369.4 L191.3,369.4 L192.0,368.9 L192.8,368.6 L193.5,367.5" stroke="#000" stroke-width="0.85" fill="none" stroke-linejoin="round"/>
<path d="M196.2,366.8 L196.9,366.1 L197.7,366.1 L198.4,367.0 L199.2,368.0 L199.9,367.3 L200.6,365.2 L201.4,363.2 L202.1,361.9 L202.8,360.2 L203.6,359.7 L204.3,359.7 L205.1,360.9 L205.8,361.6 L206.5,363.7 L207.3,364.7 L208.0,366.2 L208.8,367.3 L209.5,368.3 L210.2,369.5 L211.0,369.5 L211.7,369.3 L212.4,369.0 L213.2,368.6 L213.9,368.4 L214.7,367.1 L215.4,366.8" stroke="#000" stroke-width="0.85" fill="none" stroke-linejoin="round"/>
<path d="M97.7,385.1 L98.4,384.8 L99.1,385.1 L99.9,385.7 L100.6,386.1 L101.3,384.5 L102.1,382.1 L102.8,380.3 L103.6,379.3 L104.3,378.1 L105.0,377.7 L105.8,378.5 L106.5,379.6 L107.2,380.9 L108.0,383.1 L108.7,384.6 L109.5,385.6 L110.2,386.8 L110.9,387.5 L111.7,388.0 L112.4,388.6 L113.2,388.3 L113.9,388.0 L114.6,387.0 L115.4,386.3 L116.1,385.3 L116.9,385.2" stroke="#000" stroke-width="0.85" fill="none" stroke-linejoin="round"/>
<path d="M119.6,384.7 L120.3,384.9 L121.0,384.8 L121.8,385.1 L122.5,385.4 L123.2,384.5 L124.0,382.8 L124.7,380.5 L125.5,379.1 L126.2,378.1 L126.9,378.2 L127.7,378.9 L128.4,379.9 L129.2,380.8 L129.9,382.3 L130.6,383.4 L131.4,384.4 L132.1,384.8 L132.8,386.0 L133.6,387.2 L134.3,387.5 L135.1,387.7 L135.8,387.8 L136.5,387.6 L137.3,386.9 L138.0,386.5 L138.8,385.6" stroke="#000" stroke-width="0.85" fill="none" stroke-linejoin="round"/>
<path d="M141.5,384.6 L142.2,385.1 L142.9,384.8 L143.7,385.1 L144.4,385.8 L145.1,385.3 L145.9,383.7 L146.6,382.5 L147.4,381.6 L148.1,380.1 L148.8,379.5 L149.6,379.9 L150.3,380.5 L151.1,381.9 L151.8,382.6 L152.5,384.0 L153.3,384.6 L154.0,385.4 L154.7,385.9 L155.5,387.1 L156.2,387.1 L157.0,387.6 L157.7,387.1 L158.4,386.1 L159.2,386.3 L159.9,385.8 L160.7,385.4" stroke="#000" stroke-width="0.85" fill="none" stroke-linejoin="round"/>
<path d="M163.3,384.9 L164.1,384.9 L164.8,384.7 L165.6,385.3 L166.3,385.8 L167.0,384.2 L167.8,382.7 L168.5,381.0 L169.3,379.4 L170.0,378.6 L170.7,379.0 L171.5,380.1 L172.2,381.4 L172.9,382.1 L173.7,382.9 L174.4,384.3 L175.2,384.6 L175.9,385.5 L176.6,386.1 L177.4,387.0 L178.1,386.9 L178.9,386.8 L179.6,387.3 L180.3,386.8 L181.1,386.6 L181.8,385.4 L182.5,385.4" stroke="#000" stroke-width="0.85" fill="none" stroke-linejoin="round"/>
<path d="M185.2,384.3 L186.0,384.2 L186.7,384.7 L187.5,384.7 L188.2,384.8 L188.9,384.7 L189.7,384.1 L190.4,383.2 L191.2,382.3 L191.9,381.0 L192.6,380.6 L193.4,380.5 L194.1,380.9 L194.8,381.4 L195.6,382.2 L196.3,383.8 L197.1,384.8 L197.8,385.5 L198.5,386.4 L199.3,387.2 L200.0,387.3 L200.8,386.4 L201.5,385.9 L202.2,385.6 L203.0,384.9 L203.7,385.0 L204.4,384.1" stroke="#000" stroke-width="0.85" fill="none" stroke-linejoin="round"/>
<path d="M207.2,384.2 L207.9,384.4 L208.6,384.6 L209.4,384.5 L210.1,385.6 L210.8,385.2 L211.6,383.5 L212.3,382.5 L213.1,381.6 L213.8,380.4 L214.5,380.1 L215.3,379.4 L216.0,379.6 L216.8,381.5 L217.5,382.6 L218.2,383.5 L219.0,384.8 L219.7,385.2 L220.4,386.1 L221.2,387.1 L221.9,387.2 L222.7,387.0 L223.4,386.9 L224.1,386.1 L224.9,385.3 L225.6,385.0 L226.3,384.8" stroke="#000" stroke-width="0.85" fill="none" stroke-linejoin="round"/>
<g fill="none" stroke="#8c8c8c" stroke-width="0.75">
<ellipse cx="161.7" cy="589.1" rx="18.3" ry="17.8"/>
<ellipse cx="161.7" cy="589.1" rx="36.5" ry="35.6"/>
<ellipse cx="161.7" cy="589.1" rx="55" ry="53.6"/>
<ellipse cx="161.7" cy="589.1" rx="73.8" ry="71.8"/>
</g>
<text x="81.50" y="581.40" font-size="4.2" text-anchor="start" fill="#777">20</text>
<text x="101.00" y="581.40" font-size="4.2" text-anchor="start" fill="#777">15</text>
<text x="120.50" y="581.40" font-size="4.2" text-anchor="start" fill="#777">10</text>
<text x="139.50" y="581.40" font-size="4.2" text-anchor="start" fill="#777">5</text>
<polygon points="94.80,575.30 106.05,581.70 106.05,594.50 94.80,600.90 83.55,594.50 83.55,581.70" fill="none" stroke="#2a2a2a" stroke-width="0.85" stroke-linejoin="miter"/>
<polygon points="117.30,575.30 128.55,581.70 128.55,594.50 117.30,600.90 106.05,594.50 106.05,581.70" fill="none" stroke="#2a2a2a" stroke-width="0.85" stroke-linejoin="miter"/>
<polygon points="139.80,575.30 151.05,581.70 151.05,594.50 139.80,600.90 128.55,594.50 128.55,581.70" fill="none" stroke="#2a2a2a" stroke-width="0.85" stroke-linejoin="miter"/>
<polygon points="162.30,575.30 173.55,581.70 173.55,594.50 162.30,600.90 151.05,594.50 151.05,581.70" fill="none" stroke="#2a2a2a" stroke-width="0.85" stroke-linejoin="miter"/>
<polygon points="184.80,575.30 196.05,581.70 196.05,594.50 184.80,600.90 173.55,594.50 173.55,581.70" fill="none" stroke="#2a2a2a" stroke-width="0.85" stroke-linejoin="miter"/>
<polygon points="207.30,575.30 218.55,581.70 218.55,594.50 207.30,600.90 196.05,594.50 196.05,581.70" fill="none" stroke="#2a2a2a" stroke-width="0.85" stroke-linejoin="miter"/>
<polygon points="229.80,575.30 241.05,581.70 241.05,594.50 229.80,600.90 218.55,594.50 218.55,581.70" fill="none" stroke="#2a2a2a" stroke-width="0.85" stroke-linejoin="miter"/>
<polygon points="107.25,596.65 118.20,602.75 118.20,614.95 107.25,621.05 96.30,614.95 96.30,602.75" fill="none" stroke="#e0a162" stroke-width="2.4" stroke-linejoin="miter"/>
<polygon points="129.15,596.65 140.10,602.75 140.10,614.95 129.15,621.05 118.20,614.95 118.20,602.75" fill="none" stroke="#e0a162" stroke-width="2.4" stroke-linejoin="miter"/>
<polygon points="151.05,596.65 162.00,602.75 162.00,614.95 151.05,621.05 140.10,614.95 140.10,602.75" fill="none" stroke="#e0a162" stroke-width="2.4" stroke-linejoin="miter"/>
<polygon points="172.95,596.65 183.90,602.75 183.90,614.95 172.95,621.05 162.00,614.95 162.00,602.75" fill="none" stroke="#e0a162" stroke-width="2.4" stroke-linejoin="miter"/>
<polygon points="194.85,596.65 205.80,602.75 205.80,614.95 194.85,621.05 183.90,614.95 183.90,602.75" fill="none" stroke="#e0a162" stroke-width="2.4" stroke-linejoin="miter"/>
<polygon points="216.75,596.65 227.70,602.75 227.70,614.95 216.75,621.05 205.80,614.95 205.80,602.75" fill="none" stroke="#e0a162" stroke-width="2.4" stroke-linejoin="miter"/>
<polygon points="118.20,614.95 129.15,621.05 129.15,633.25 118.20,639.35 107.25,633.25 107.25,621.05" fill="none" stroke="#e0a162" stroke-width="2.4" stroke-linejoin="miter"/>
<polygon points="140.10,614.95 151.05,621.05 151.05,633.25 140.10,639.35 129.15,633.25 129.15,621.05" fill="none" stroke="#e0a162" stroke-width="2.4" stroke-linejoin="miter"/>
<polygon points="162.00,614.95 172.95,621.05 172.95,633.25 162.00,639.35 151.05,633.25 151.05,621.05" fill="none" stroke="#e0a162" stroke-width="2.4" stroke-linejoin="miter"/>
<polygon points="183.90,614.95 194.85,621.05 194.85,633.25 183.90,639.35 172.95,633.25 172.95,621.05" fill="none" stroke="#e0a162" stroke-width="2.4" stroke-linejoin="miter"/>
<polygon points="205.80,614.95 216.75,621.05 216.75,633.25 205.80,639.35 194.85,633.25 194.85,621.05" fill="none" stroke="#e0a162" stroke-width="2.4" stroke-linejoin="miter"/>
<polygon points="129.15,633.25 140.10,639.35 140.10,651.55 129.15,657.65 118.20,651.55 118.20,639.35" fill="none" stroke="#e0a162" stroke-width="2.4" stroke-linejoin="miter"/>
<polygon points="151.05,633.25 162.00,639.35 162.00,651.55 151.05,657.65 140.10,651.55 140.10,639.35" fill="none" stroke="#e0a162" stroke-width="2.4" stroke-linejoin="miter"/>
<polygon points="172.95,633.25 183.90,639.35 183.90,651.55 172.95,657.65 162.00,651.55 162.00,639.35" fill="none" stroke="#e0a162" stroke-width="2.4" stroke-linejoin="miter"/>
<polygon points="194.85,633.25 205.80,639.35 205.80,651.55 194.85,657.65 183.90,651.55 183.90,639.35" fill="none" stroke="#e0a162" stroke-width="2.4" stroke-linejoin="miter"/>
<polygon points="129.15,518.55 140.10,524.65 140.10,536.85 129.15,542.95 118.20,536.85 118.20,524.65" fill="none" stroke="#ff0000" stroke-width="2.4" stroke-linejoin="miter"/>
<polygon points="151.05,518.55 162.00,524.65 162.00,536.85 151.05,542.95 140.10,536.85 140.10,524.65" fill="none" stroke="#ff0000" stroke-width="2.4" stroke-linejoin="miter"/>
<polygon points="172.95,518.55 183.90,524.65 183.90,536.85 172.95,542.95 162.00,536.85 162.00,524.65" fill="none" stroke="#ff0000" stroke-width="2.4" stroke-linejoin="miter"/>
<polygon points="194.85,518.55 205.80,524.65 205.80,536.85 194.85,542.95 183.90,536.85 183.90,524.65" fill="none" stroke="#ff0000" stroke-width="2.4" stroke-linejoin="miter"/>
<polygon points="118.20,536.85 129.15,542.95 129.15,555.15 118.20,561.25 107.25,555.15 107.25,542.95" fill="none" stroke="#ff0000" stroke-width="2.4" stroke-linejoin="miter"/>
<polygon points="140.10,536.85 151.05,542.95 151.05,555.15 140.10,561.25 129.15,555.15 129.15,542.95" fill="none" stroke="#ff0000" stroke-width="2.4" stroke-linejoin="miter"/>
<polygon points="162.00,536.85 172.95,542.95 172.95,555.15 162.00,561.25 151.05,555.15 151.05,542.95" fill="none" stroke="#ff0000" stroke-width="2.4" stroke-linejoin="miter"/>
<polygon points="183.90,536.85 194.85,542.95 194.85,555.15 183.90,561.25 172.95,555.15 172.95,542.95" fill="none" stroke="#ff0000" stroke-width="2.4" stroke-linejoin="miter"/>
<polygon points="205.80,536.85 216.75,542.95 216.75,555.15 205.80,561.25 194.85,555.15 194.85,542.95" fill="none" stroke="#ff0000" stroke-width="2.4" stroke-linejoin="miter"/>
<polygon points="107.25,555.15 118.20,561.25 118.20,573.45 107.25,579.55 96.30,573.45 96.30,561.25" fill="none" stroke="#ff0000" stroke-width="2.4" stroke-linejoin="miter"/>
<polygon points="129.15,555.15 140.10,561.25 140.10,573.45 129.15,579.55 118.20,573.45 118.20,561.25" fill="none" stroke="#ff0000" stroke-width="2.4" stroke-linejoin="miter"/>
<polygon points="151.05,555.15 162.00,561.25 162.00,573.45 151.05,579.55 140.10,573.45 140.10,561.25" fill="none" stroke="#ff0000" stroke-width="2.4" stroke-linejoin="miter"/>
<polygon points="172.95,555.15 183.90,561.25 183.90,573.45 172.95,579.55 162.00,573.45 162.00,561.25" fill="none" stroke="#ff0000" stroke-width="2.4" stroke-linejoin="miter"/>
<polygon points="194.85,555.15 205.80,561.25 205.80,573.45 194.85,579.55 183.90,573.45 183.90,561.25" fill="none" stroke="#ff0000" stroke-width="2.4" stroke-linejoin="miter"/>
<polygon points="216.75,555.15 227.70,561.25 227.70,573.45 216.75,579.55 205.80,573.45 205.80,561.25" fill="none" stroke="#ff0000" stroke-width="2.4" stroke-linejoin="miter"/>
<path d="M85.2,588.8 L85.9,588.8 L86.7,588.7 L87.4,589.4 L88.2,589.7 L88.9,589.5 L89.6,589.5 L90.4,589.2 L91.1,589.6 L91.8,589.6 L92.6,588.7 L93.3,588.6 L94.1,588.5 L94.8,588.2 L95.5,588.7 L96.3,589.4 L97.0,588.9 L97.8,588.9 L98.5,588.8 L99.2,588.9 L100.0,588.5 L100.7,589.1 L101.4,588.9 L102.2,589.3 L102.9,589.3 L103.7,589.1 L104.4,589.5" stroke="#000" stroke-width="0.85" fill="none" stroke-linejoin="round"/>
<path d="M107.7,589.4 L108.4,589.3 L109.2,589.9 L109.9,590.2 L110.7,590.2 L111.4,589.3 L112.1,589.6 L112.9,589.7 L113.6,589.7 L114.3,589.6 L115.1,589.2 L115.8,588.6 L116.6,588.0 L117.3,588.5 L118.0,588.8 L118.8,589.2 L119.5,589.5 L120.3,589.1 L121.0,589.3 L121.7,589.9 L122.5,590.4 L123.2,589.7 L123.9,589.4 L124.7,589.0 L125.4,589.5 L126.2,589.3 L126.9,588.5" stroke="#000" stroke-width="0.85" fill="none" stroke-linejoin="round"/>
<path d="M130.2,589.8 L130.9,589.5 L131.7,589.8 L132.4,588.9 L133.2,588.7 L133.9,588.1 L134.6,587.9 L135.4,587.6 L136.1,588.0 L136.8,587.5 L137.6,587.6 L138.3,588.3 L139.1,587.8 L139.8,588.5 L140.5,589.3 L141.3,590.0 L142.0,589.9 L142.8,590.2 L143.5,589.3 L144.2,588.7 L145.0,589.4 L145.7,589.8 L146.4,589.3 L147.2,589.5 L147.9,589.1 L148.7,588.5 L149.4,589.1" stroke="#000" stroke-width="0.85" fill="none" stroke-linejoin="round"/>
<path d="M152.7,588.2 L153.4,588.1 L154.2,588.1 L154.9,588.5 L155.7,589.2 L156.4,589.1 L157.1,588.8 L157.9,588.8 L158.6,589.3 L159.3,589.3 L160.1,589.0 L160.8,588.3 L161.6,588.2 L162.3,588.1 L163.0,587.8 L163.8,588.8 L164.5,588.6 L165.3,589.0 L166.0,589.1 L166.7,588.8 L167.5,589.5 L168.2,588.9 L168.9,589.9 L169.7,589.7 L170.4,589.6 L171.2,590.0 L171.9,589.7" stroke="#000" stroke-width="0.85" fill="none" stroke-linejoin="round"/>
<path d="M175.2,589.3 L175.9,588.6 L176.7,589.2 L177.4,588.5 L178.2,589.1 L178.9,588.7 L179.6,589.0 L180.4,588.8 L181.1,588.7 L181.8,589.2 L182.6,588.5 L183.3,588.7 L184.1,588.5 L184.8,588.8 L185.5,589.0 L186.3,589.2 L187.0,589.6 L187.8,588.9 L188.5,589.7 L189.2,589.0 L190.0,588.6 L190.7,588.9 L191.4,588.6 L192.2,588.6 L192.9,588.6 L193.7,589.1 L194.4,589.4" stroke="#000" stroke-width="0.85" fill="none" stroke-linejoin="round"/>
<path d="M197.7,588.9 L198.4,589.1 L199.2,588.6 L199.9,589.0 L200.7,589.2 L201.4,589.7 L202.1,589.8 L202.9,590.0 L203.6,589.8 L204.3,589.6 L205.1,588.5 L205.8,588.5 L206.6,589.1 L207.3,588.9 L208.0,589.3 L208.8,588.9 L209.5,588.9 L210.3,588.4 L211.0,589.0 L211.7,588.7 L212.5,589.4 L213.2,588.9 L213.9,589.1 L214.7,590.1 L215.4,589.5 L216.2,589.9 L216.9,590.0" stroke="#000" stroke-width="0.85" fill="none" stroke-linejoin="round"/>
<path d="M220.2,589.6 L220.9,589.3 L221.7,589.6 L222.4,590.1 L223.2,589.1 L223.9,588.8 L224.6,589.2 L225.4,588.2 L226.1,587.7 L226.8,588.4 L227.6,589.0 L228.3,588.5 L229.1,589.0 L229.8,588.5 L230.5,588.9 L231.3,588.9 L232.0,589.2 L232.8,589.1 L233.5,589.0 L234.2,589.3 L235.0,589.3 L235.7,589.6 L236.4,590.0 L237.2,590.1 L237.9,588.9 L238.7,589.3 L239.4,589.1" stroke="#000" stroke-width="0.85" fill="none" stroke-linejoin="round"/>
<path d="M97.7,610.3 L98.4,610.3 L99.1,609.8 L99.9,609.5 L100.6,609.0 L101.3,609.5 L102.1,608.8 L102.8,608.2 L103.6,607.9 L104.3,609.0 L105.0,609.2 L105.8,608.8 L106.5,608.7 L107.2,609.9 L108.0,610.1 L108.7,609.9 L109.5,609.8 L110.2,610.1 L110.9,610.7 L111.7,610.7 L112.4,611.1 L113.2,610.8 L113.9,610.5 L114.6,609.6 L115.4,609.4 L116.1,609.6 L116.9,609.9" stroke="#000" stroke-width="0.85" fill="none" stroke-linejoin="round"/>
<path d="M119.6,609.0 L120.3,609.1 L121.0,608.6 L121.8,609.1 L122.5,609.3 L123.2,609.7 L124.0,609.6 L124.7,609.1 L125.5,608.7 L126.2,609.0 L126.9,609.4 L127.7,610.1 L128.4,609.3 L129.2,609.6 L129.9,609.8 L130.6,610.4 L131.4,610.7 L132.1,610.4 L132.8,609.4 L133.6,609.3 L134.3,609.3 L135.1,609.4 L135.8,610.0 L136.5,610.5 L137.3,610.1 L138.0,610.8 L138.8,610.4" stroke="#000" stroke-width="0.85" fill="none" stroke-linejoin="round"/>
<path d="M141.5,609.7 L142.2,610.1 L142.9,609.6 L143.7,609.8 L144.4,609.6 L145.1,609.3 L145.9,609.2 L146.6,609.2 L147.4,609.7 L148.1,609.7 L148.8,608.9 L149.6,609.5 L150.3,609.9 L151.1,609.9 L151.8,609.9 L152.5,609.6 L153.3,610.2 L154.0,609.5 L154.7,610.5 L155.5,609.8 L156.2,609.7 L157.0,609.2 L157.7,609.9 L158.4,609.5 L159.2,609.0 L159.9,609.2 L160.7,610.1" stroke="#000" stroke-width="0.85" fill="none" stroke-linejoin="round"/>
<path d="M163.3,610.8 L164.1,611.0 L164.8,610.1 L165.6,609.7 L166.3,609.2 L167.0,609.3 L167.8,609.2 L168.5,609.4 L169.3,609.0 L170.0,608.1 L170.7,608.1 L171.5,607.8 L172.2,608.7 L172.9,608.7 L173.7,608.9 L174.4,610.2 L175.2,610.0 L175.9,610.9 L176.6,611.3 L177.4,611.7 L178.1,610.9 L178.9,611.1 L179.6,609.8 L180.3,610.4 L181.1,609.5 L181.8,609.1 L182.5,609.2" stroke="#000" stroke-width="0.85" fill="none" stroke-linejoin="round"/>
<path d="M185.2,609.1 L186.0,609.5 L186.7,609.3 L187.5,609.5 L188.2,609.1 L188.9,609.6 L189.7,609.1 L190.4,610.0 L191.2,610.0 L191.9,609.5 L192.6,609.3 L193.4,608.8 L194.1,609.5 L194.8,609.1 L195.6,608.9 L196.3,609.8 L197.1,610.3 L197.8,610.0 L198.5,609.2 L199.3,609.4 L200.0,609.8 L200.8,609.9 L201.5,609.5 L202.2,609.8 L203.0,609.9 L203.7,609.9 L204.4,609.4" stroke="#000" stroke-width="0.85" fill="none" stroke-linejoin="round"/>
<path d="M207.2,609.6 L207.9,609.6 L208.6,609.3 L209.4,609.3 L210.1,610.5 L210.8,610.3 L211.6,610.2 L212.3,610.2 L213.1,609.6 L213.8,608.4 L214.5,608.0 L215.3,608.7 L216.0,608.9 L216.8,609.1 L217.5,608.6 L218.2,609.3 L219.0,610.2 L219.7,610.4 L220.4,611.0 L221.2,611.6 L221.9,611.1 L222.7,610.3 L223.4,610.0 L224.1,609.8 L224.9,610.4 L225.6,610.0 L226.3,609.6" stroke="#000" stroke-width="0.85" fill="none" stroke-linejoin="round"/>
<path d="M108.6,628.7 L109.3,628.0 L110.1,628.0 L110.8,627.6 L111.6,628.1 L112.3,628.5 L113.0,628.0 L113.8,627.6 L114.5,626.9 L115.2,627.1 L116.0,626.9 L116.7,627.3 L117.5,627.2 L118.2,628.2 L118.9,627.8 L119.7,627.7 L120.4,629.0 L121.2,628.5 L121.9,628.3 L122.6,628.2 L123.4,628.9 L124.1,628.2 L124.8,627.7 L125.6,627.6 L126.3,627.0 L127.1,626.8 L127.8,627.1" stroke="#000" stroke-width="0.85" fill="none" stroke-linejoin="round"/>
<path d="M130.5,628.2 L131.2,627.7 L132.0,627.9 L132.7,628.2 L133.5,628.3 L134.2,627.7 L134.9,627.9 L135.7,627.2 L136.4,626.9 L137.1,626.9 L137.9,627.0 L138.6,627.4 L139.4,628.0 L140.1,628.0 L140.8,628.2 L141.6,628.8 L142.3,628.6 L143.1,628.9 L143.8,628.4 L144.5,628.4 L145.3,628.6 L146.0,628.4 L146.7,629.0 L147.5,629.4 L148.2,628.8 L149.0,628.9 L149.7,627.8" stroke="#000" stroke-width="0.85" fill="none" stroke-linejoin="round"/>
<path d="M152.4,627.7 L153.1,627.5 L153.9,628.0 L154.6,627.3 L155.4,627.0 L156.1,627.3 L156.8,626.9 L157.6,626.7 L158.3,627.8 L159.0,627.5 L159.8,627.3 L160.5,627.2 L161.3,627.8 L162.0,627.8 L162.7,627.8 L163.5,627.5 L164.2,628.6 L165.0,628.6 L165.7,628.7 L166.4,628.1 L167.2,628.7 L167.9,629.0 L168.6,629.1 L169.4,629.1 L170.1,628.7 L170.9,627.9 L171.6,628.4" stroke="#000" stroke-width="0.85" fill="none" stroke-linejoin="round"/>
<path d="M174.3,628.0 L175.0,628.3 L175.8,628.1 L176.5,628.2 L177.3,628.0 L178.0,627.8 L178.7,627.4 L179.5,627.3 L180.2,627.8 L180.9,627.6 L181.7,627.0 L182.4,626.7 L183.2,626.7 L183.9,626.6 L184.6,626.7 L185.4,627.3 L186.1,627.6 L186.9,628.7 L187.6,628.8 L188.3,628.5 L189.1,628.1 L189.8,628.0 L190.5,628.4 L191.3,628.9 L192.0,628.1 L192.8,627.9 L193.5,628.4" stroke="#000" stroke-width="0.85" fill="none" stroke-linejoin="round"/>
<path d="M196.2,627.2 L196.9,627.3 L197.7,627.2 L198.4,627.1 L199.2,627.9 L199.9,627.9 L200.6,628.4 L201.4,628.1 L202.1,628.2 L202.8,627.8 L203.6,628.5 L204.3,628.7 L205.1,628.6 L205.8,629.1 L206.5,628.8 L207.3,627.8 L208.0,627.4 L208.8,628.2 L209.5,627.6 L210.2,628.2 L211.0,628.5 L211.7,628.0 L212.4,628.3 L213.2,628.6 L213.9,629.0 L214.7,629.1 L215.4,629.2" stroke="#000" stroke-width="0.85" fill="none" stroke-linejoin="round"/>
<path d="M119.6,645.7 L120.3,646.6 L121.0,646.6 L121.8,646.1 L122.5,647.1 L123.2,646.8 L124.0,646.6 L124.7,646.2 L125.5,645.7 L126.2,646.3 L126.9,645.5 L127.7,646.1 L128.4,645.7 L129.2,646.5 L129.9,647.0 L130.6,647.1 L131.4,647.4 L132.1,647.3 L132.8,647.5 L133.6,647.7 L134.3,646.8 L135.1,646.8 L135.8,646.9 L136.5,646.9 L137.3,646.4 L138.0,647.3 L138.8,647.7" stroke="#000" stroke-width="0.85" fill="none" stroke-linejoin="round"/>
<path d="M141.5,646.2 L142.2,647.3 L142.9,647.2 L143.7,647.3 L144.4,647.0 L145.1,647.4 L145.9,646.2 L146.6,645.1 L147.4,645.1 L148.1,644.8 L148.8,644.5 L149.6,644.4 L150.3,644.6 L151.1,645.3 L151.8,646.4 L152.5,646.1 L153.3,646.0 L154.0,646.3 L154.7,647.1 L155.5,646.6 L156.2,646.9 L157.0,647.4 L157.7,646.9 L158.4,647.3 L159.2,647.3 L159.9,646.3 L160.7,646.9" stroke="#000" stroke-width="0.85" fill="none" stroke-linejoin="round"/>
<path d="M163.3,646.2 L164.1,647.0 L164.8,647.5 L165.6,647.2 L166.3,647.4 L167.0,647.0 L167.8,647.0 L168.5,646.7 L169.3,645.8 L170.0,645.9 L170.7,645.7 L171.5,645.5 L172.2,646.1 L172.9,645.5 L173.7,645.4 L174.4,646.7 L175.2,646.4 L175.9,647.3 L176.6,647.1 L177.4,648.0 L178.1,647.4 L178.9,646.8 L179.6,647.3 L180.3,647.5 L181.1,647.2 L181.8,646.2 L182.5,645.8" stroke="#000" stroke-width="0.85" fill="none" stroke-linejoin="round"/>
<path d="M185.2,645.9 L186.0,646.6 L186.7,646.0 L187.5,646.8 L188.2,646.9 L188.9,646.5 L189.7,646.6 L190.4,646.7 L191.2,646.5 L191.9,646.3 L192.6,645.6 L193.4,645.8 L194.1,646.0 L194.8,645.9 L195.6,646.7 L196.3,646.3 L197.1,646.2 L197.8,646.0 L198.5,646.4 L199.3,646.5 L200.0,647.1 L200.8,646.8 L201.5,646.4 L202.2,645.6 L203.0,645.4 L203.7,646.0 L204.4,645.8" stroke="#000" stroke-width="0.85" fill="none" stroke-linejoin="round"/>
<path d="M119.6,530.9 L120.3,531.9 L121.0,531.7 L121.8,532.0 L122.5,531.7 L123.2,531.8 L124.0,532.3 L124.7,532.5 L125.5,532.7 L126.2,531.6 L126.9,530.8 L127.7,530.9 L128.4,531.1 L129.2,530.8 L129.9,531.2 L130.6,531.1 L131.4,531.5 L132.1,531.8 L132.8,531.6 L133.6,532.3 L134.3,532.6 L135.1,532.5 L135.8,531.9 L136.5,532.7 L137.3,532.8 L138.0,532.9 L138.8,532.8" stroke="#000" stroke-width="0.85" fill="none" stroke-linejoin="round"/>
<path d="M141.5,532.2 L142.2,532.1 L142.9,532.1 L143.7,532.0 L144.4,532.5 L145.1,531.9 L145.9,531.8 L146.6,531.0 L147.4,530.8 L148.1,530.8 L148.8,530.0 L149.6,530.7 L150.3,531.5 L151.1,531.9 L151.8,531.5 L152.5,532.3 L153.3,532.0 L154.0,532.9 L154.7,533.1 L155.5,532.7 L156.2,533.3 L157.0,532.9 L157.7,531.8 L158.4,531.4 L159.2,531.7 L159.9,531.0 L160.7,531.0" stroke="#000" stroke-width="0.85" fill="none" stroke-linejoin="round"/>
<path d="M163.3,531.8 L164.1,531.7 L164.8,532.4 L165.6,532.4 L166.3,532.5 L167.0,532.5 L167.8,532.3 L168.5,531.1 L169.3,531.2 L170.0,530.9 L170.7,531.2 L171.5,530.5 L172.2,530.5 L172.9,531.5 L173.7,531.0 L174.4,530.8 L175.2,531.3 L175.9,531.5 L176.6,531.9 L177.4,533.1 L178.1,533.2 L178.9,533.3 L179.6,533.5 L180.3,532.5 L181.1,532.0 L181.8,531.9 L182.5,531.3" stroke="#000" stroke-width="0.85" fill="none" stroke-linejoin="round"/>
<path d="M185.2,530.8 L186.0,531.1 L186.7,531.0 L187.5,530.8 L188.2,531.1 L188.9,531.7 L189.7,531.1 L190.4,532.0 L191.2,531.9 L191.9,531.2 L192.6,531.1 L193.4,531.5 L194.1,531.1 L194.8,531.0 L195.6,531.0 L196.3,531.6 L197.1,531.4 L197.8,531.3 L198.5,531.0 L199.3,531.4 L200.0,531.0 L200.8,531.1 L201.5,531.9 L202.2,531.8 L203.0,532.4 L203.7,532.1 L204.4,532.4" stroke="#000" stroke-width="0.85" fill="none" stroke-linejoin="round"/>
<path d="M108.6,550.6 L109.3,550.3 L110.1,550.6 L110.8,550.5 L111.6,550.4 L112.3,549.7 L113.0,549.4 L113.8,549.5 L114.5,548.8 L115.2,548.6 L116.0,548.5 L116.7,548.8 L117.5,548.6 L118.2,549.0 L118.9,549.4 L119.7,550.0 L120.4,550.5 L121.2,550.7 L121.9,550.6 L122.6,550.8 L123.4,551.5 L124.1,551.5 L124.8,551.6 L125.6,551.6 L126.3,551.0 L127.1,550.6 L127.8,550.2" stroke="#000" stroke-width="0.85" fill="none" stroke-linejoin="round"/>
<path d="M130.5,550.0 L131.2,549.9 L132.0,549.5 L132.7,550.5 L133.5,551.1 L134.2,550.8 L134.9,549.9 L135.7,549.8 L136.4,550.0 L137.1,549.2 L137.9,549.2 L138.6,549.0 L139.4,548.9 L140.1,550.0 L140.8,550.3 L141.6,549.6 L142.3,549.9 L143.1,549.3 L143.8,550.3 L144.5,549.6 L145.3,549.7 L146.0,550.2 L146.7,549.8 L147.5,550.1 L148.2,550.4 L149.0,550.9 L149.7,550.3" stroke="#000" stroke-width="0.85" fill="none" stroke-linejoin="round"/>
<path d="M152.4,550.3 L153.1,550.7 L153.9,550.2 L154.6,550.2 L155.4,550.7 L156.1,550.2 L156.8,550.2 L157.6,550.2 L158.3,549.8 L159.0,550.0 L159.8,550.5 L160.5,549.6 L161.3,549.2 L162.0,550.2 L162.7,550.1 L163.5,550.2 L164.2,550.7 L165.0,550.5 L165.7,550.7 L166.4,550.7 L167.2,550.4 L167.9,550.8 L168.6,550.6 L169.4,549.5 L170.1,549.2 L170.9,549.8 L171.6,549.2" stroke="#000" stroke-width="0.85" fill="none" stroke-linejoin="round"/>
<path d="M174.3,550.4 L175.0,549.7 L175.8,550.3 L176.5,550.3 L177.3,550.3 L178.0,549.6 L178.7,549.0 L179.5,549.7 L180.2,549.7 L180.9,549.9 L181.7,550.3 L182.4,550.4 L183.2,550.6 L183.9,550.6 L184.6,550.5 L185.4,549.9 L186.1,550.1 L186.9,550.0 L187.6,550.6 L188.3,550.8 L189.1,550.7 L189.8,550.8 L190.5,551.0 L191.3,550.7 L192.0,549.6 L192.8,550.3 L193.5,550.0" stroke="#000" stroke-width="0.85" fill="none" stroke-linejoin="round"/>
<path d="M196.2,549.8 L196.9,550.1 L197.7,550.8 L198.4,550.1 L199.2,551.1 L199.9,550.2 L200.6,549.7 L201.4,549.3 L202.1,548.9 L202.8,549.3 L203.6,549.1 L204.3,549.1 L205.1,549.0 L205.8,549.3 L206.5,548.9 L207.3,549.7 L208.0,549.8 L208.8,550.7 L209.5,551.3 L210.2,550.4 L211.0,550.8 L211.7,550.9 L212.4,550.1 L213.2,550.0 L213.9,550.7 L214.7,550.4 L215.4,550.3" stroke="#000" stroke-width="0.85" fill="none" stroke-linejoin="round"/>
<path d="M97.7,568.3 L98.4,568.2 L99.1,567.9 L99.9,567.6 L100.6,568.4 L101.3,567.7 L102.1,567.6 L102.8,568.0 L103.6,567.9 L104.3,566.9 L105.0,566.7 L105.8,566.7 L106.5,567.5 L107.2,567.8 L108.0,568.4 L108.7,568.4 L109.5,568.6 L110.2,569.0 L110.9,568.3 L111.7,568.6 L112.4,569.3 L113.2,568.4 L113.9,568.9 L114.6,568.8 L115.4,568.5 L116.1,568.7 L116.9,568.5" stroke="#000" stroke-width="0.85" fill="none" stroke-linejoin="round"/>
<path d="M119.6,569.4 L120.3,569.4 L121.0,569.6 L121.8,569.4 L122.5,569.2 L123.2,568.3 L124.0,568.8 L124.7,567.7 L125.5,568.0 L126.2,567.2 L126.9,566.7 L127.7,566.2 L128.4,566.8 L129.2,567.9 L129.9,568.4 L130.6,568.5 L131.4,568.4 L132.1,568.0 L132.8,568.1 L133.6,569.3 L134.3,569.8 L135.1,569.2 L135.8,569.5 L136.5,568.9 L137.3,568.6 L138.0,568.3 L138.8,568.4" stroke="#000" stroke-width="0.85" fill="none" stroke-linejoin="round"/>
<path d="M141.5,568.3 L142.2,568.6 L142.9,568.1 L143.7,568.9 L144.4,569.0 L145.1,568.2 L145.9,567.5 L146.6,567.9 L147.4,567.4 L148.1,567.0 L148.8,567.1 L149.6,567.2 L150.3,567.3 L151.1,568.0 L151.8,568.4 L152.5,568.8 L153.3,569.0 L154.0,568.8 L154.7,568.6 L155.5,569.1 L156.2,569.5 L157.0,569.7 L157.7,569.6 L158.4,569.5 L159.2,568.9 L159.9,568.3 L160.7,568.5" stroke="#000" stroke-width="0.85" fill="none" stroke-linejoin="round"/>
<path d="M163.3,568.4 L164.1,569.0 L164.8,569.1 L165.6,568.6 L166.3,568.3 L167.0,568.7 L167.8,568.3 L168.5,568.0 L169.3,567.5 L170.0,566.7 L170.7,567.4 L171.5,567.5 L172.2,566.9 L172.9,568.0 L173.7,568.7 L174.4,568.4 L175.2,568.6 L175.9,569.0 L176.6,569.3 L177.4,569.9 L178.1,569.3 L178.9,569.4 L179.6,569.1 L180.3,568.1 L181.1,568.1 L181.8,568.2 L182.5,568.2" stroke="#000" stroke-width="0.85" fill="none" stroke-linejoin="round"/>
<path d="M185.2,568.8 L186.0,568.5 L186.7,568.7 L187.5,568.3 L188.2,568.8 L188.9,568.5 L189.7,568.3 L190.4,567.6 L191.2,568.1 L191.9,568.4 L192.6,568.5 L193.4,568.1 L194.1,568.5 L194.8,568.8 L195.6,568.3 L196.3,568.3 L197.1,568.9 L197.8,568.1 L198.5,568.7 L199.3,568.8 L200.0,568.5 L200.8,568.5 L201.5,568.1 L202.2,568.7 L203.0,568.4 L203.7,568.9 L204.4,569.3" stroke="#000" stroke-width="0.85" fill="none" stroke-linejoin="round"/>
<path d="M207.2,568.7 L207.9,568.2 L208.6,568.8 L209.4,567.8 L210.1,568.7 L210.8,568.1 L211.6,567.5 L212.3,567.8 L213.1,567.3 L213.8,568.0 L214.5,567.4 L215.3,567.5 L216.0,567.2 L216.8,567.3 L217.5,567.5 L218.2,567.6 L219.0,568.5 L219.7,569.4 L220.4,569.6 L221.2,568.7 L221.9,568.6 L222.7,568.4 L223.4,568.3 L224.1,568.9 L224.9,567.9 L225.6,568.0 L226.3,568.1" stroke="#000" stroke-width="0.85" fill="none" stroke-linejoin="round"/>
<text x="162.50" y="329.00" font-size="13.4" font-weight="bold" text-anchor="middle" fill="#000">Superior</text>
<text x="162.00" y="490.80" font-size="13.4" font-weight="bold" text-anchor="middle" fill="#000">Inferior</text>
<text x="162.50" y="510.80" font-size="13.4" font-weight="bold" text-anchor="middle" fill="#000">Superior</text>
<text x="162.00" y="677.80" font-size="13.4" font-weight="bold" text-anchor="middle" fill="#000">Inferior</text>
<text x="13.40" y="396.00" font-size="13.6" font-weight="bold" text-anchor="middle" fill="#000" transform="rotate(-90 13.40 396.00)">before LD</text>
<text x="14.00" y="589.00" font-size="13.6" font-weight="bold" text-anchor="middle" fill="#000" transform="rotate(-90 14.00 589.00)">after LD</text>
<text x="76.50" y="399.00" font-size="13.4" font-weight="bold" text-anchor="middle" fill="#000" transform="rotate(-90 76.50 399.00)">Nasal</text>
<text x="76.30" y="585.30" font-size="13.4" font-weight="bold" text-anchor="middle" fill="#000" transform="rotate(-90 76.30 585.30)">Nasal</text>
<text x="252.80" y="402.00" font-size="13.4" font-weight="bold" text-anchor="middle" fill="#000" transform="rotate(-90 252.80 402.00)">Temporal</text>
<text x="252.80" y="588.30" font-size="13.4" font-weight="bold" text-anchor="middle" fill="#000" transform="rotate(-90 252.80 588.30)">Temporal</text>
<text x="75.00" y="357.91" font-size="12.6" text-anchor="middle" fill="#ff0000">1</text>
<text x="76.00" y="477.33" font-size="13.2" text-anchor="middle" fill="#e0a162">2</text>
<text x="75.00" y="543.81" font-size="12.6" text-anchor="middle" fill="#ff0000">1</text>
<text x="76.00" y="664.03" font-size="13.2" text-anchor="middle" fill="#e0a162">2</text>
<path d="M55.8,438.9 L55.8,445.5 L77.5,445.5" stroke="#333" stroke-width="0.7" fill="none"/>
<text x="54.60" y="437.30" font-size="4.9" text-anchor="start" fill="#111">250 nV</text>
<text x="55.00" y="452.00" font-size="4.9" text-anchor="start" fill="#111">0</text>
<text x="74.40" y="452.00" font-size="4.9" text-anchor="start" fill="#111">120 msec</text>
<path d="M64.4,625.9 L64.4,632.5 L86.10000000000001,632.5" stroke="#333" stroke-width="0.7" fill="none"/>
<text x="63.20" y="624.30" font-size="4.9" text-anchor="start" fill="#111">250 nV</text>
<text x="63.60" y="639.00" font-size="4.9" text-anchor="start" fill="#111">0</text>
<text x="83.00" y="639.00" font-size="4.9" text-anchor="start" fill="#111">120 msec</text>
<g stroke-linejoin="round">
<polygon points="390.30,358.76 397.25,360.61 397.25,364.09 390.30,366.57 383.35,364.98 383.35,360.87" fill="#1ce406" stroke="#111" stroke-width="0.45" stroke-linejoin="miter"/>
<polygon points="404.20,358.38 411.15,359.33 411.15,361.40 404.20,364.04 397.25,364.09 397.25,360.61" fill="#31e900" stroke="#111" stroke-width="0.45" stroke-linejoin="miter"/>
<polygon points="418.10,356.63 425.05,355.81 425.05,357.96 418.10,360.29 411.15,361.40 411.15,359.33" fill="#c0f800" stroke="#111" stroke-width="0.45" stroke-linejoin="miter"/>
<polygon points="432.00,352.83 438.95,351.61 438.95,355.56 432.00,358.83 425.05,357.96 425.05,355.81" fill="#ffa700" stroke="#111" stroke-width="0.45" stroke-linejoin="miter"/>
<polygon points="445.90,350.80 452.85,352.42 452.85,356.30 445.90,358.92 438.95,355.56 438.95,351.61" fill="#ff6c00" stroke="#111" stroke-width="0.45" stroke-linejoin="miter"/>
<polygon points="459.80,353.80 466.75,357.28 466.75,360.86 459.80,360.14 452.85,356.30 452.85,352.42" fill="#ffdc00" stroke="#111" stroke-width="0.45" stroke-linejoin="miter"/>
<polygon points="473.70,357.37 480.65,360.21 480.65,364.39 473.70,365.18 466.75,360.86 466.75,357.28" fill="#53ed00" stroke="#111" stroke-width="0.45" stroke-linejoin="miter"/>
<polygon points="383.35,364.98 390.30,366.57 390.30,370.14 383.35,372.37 376.40,371.13 376.40,367.14" fill="#1ee505" stroke="#111" stroke-width="0.45" stroke-linejoin="miter"/>
<polygon points="397.25,364.09 404.20,364.04 404.20,367.02 397.25,370.44 390.30,370.14 390.30,366.57" fill="#5cee00" stroke="#111" stroke-width="0.45" stroke-linejoin="miter"/>
<polygon points="411.15,361.40 418.10,360.29 418.10,363.66 411.15,367.55 404.20,367.02 404.20,364.04" fill="#ffea00" stroke="#111" stroke-width="0.45" stroke-linejoin="miter"/>
<polygon points="425.05,357.96 432.00,358.83 432.00,364.97 425.05,367.34 418.10,363.66 418.10,360.29" fill="#ffa900" stroke="#111" stroke-width="0.45" stroke-linejoin="miter"/>
<polygon points="438.95,355.56 445.90,358.92 445.90,366.64 438.95,370.04 432.00,364.97 432.00,358.83" fill="#ffd700" stroke="#111" stroke-width="0.45" stroke-linejoin="miter"/>
<polygon points="452.85,356.30 459.80,360.14 459.80,365.49 452.85,369.85 445.90,366.64 445.90,358.92" fill="#ffcc00" stroke="#111" stroke-width="0.45" stroke-linejoin="miter"/>
<polygon points="466.75,360.86 473.70,365.18 473.70,369.71 466.75,370.74 459.80,365.49 459.80,360.14" fill="#d9fb00" stroke="#111" stroke-width="0.45" stroke-linejoin="miter"/>
<polygon points="480.65,364.39 487.60,367.02 487.60,371.31 480.65,373.22 473.70,369.71 473.70,365.18" fill="#21e604" stroke="#111" stroke-width="0.45" stroke-linejoin="miter"/>
<polygon points="376.40,371.13 383.35,372.37 383.35,373.80 376.40,376.14 369.45,376.58 369.45,373.22" fill="#2fe900" stroke="#111" stroke-width="0.45" stroke-linejoin="miter"/>
<polygon points="390.30,370.14 397.25,370.44 397.25,371.04 390.30,371.17 383.35,373.80 383.35,372.37" fill="#9cf500" stroke="#111" stroke-width="0.45" stroke-linejoin="miter"/>
<polygon points="404.20,367.02 411.15,367.55 411.15,371.48 404.20,370.02 397.25,371.04 397.25,370.44" fill="#edfd00" stroke="#111" stroke-width="0.45" stroke-linejoin="miter"/>
<polygon points="418.10,363.66 425.05,367.34 425.05,373.98 418.10,373.87 411.15,371.48 411.15,367.55" fill="#f9fe00" stroke="#111" stroke-width="0.45" stroke-linejoin="miter"/>
<polygon points="432.00,364.97 438.95,370.04 438.95,376.09 432.00,377.07 425.05,373.98 425.05,367.34" fill="#9ff500" stroke="#111" stroke-width="0.45" stroke-linejoin="miter"/>
<polygon points="445.90,366.64 452.85,369.85 452.85,376.75 445.90,378.51 438.95,376.09 438.95,370.04" fill="#48eb00" stroke="#111" stroke-width="0.45" stroke-linejoin="miter"/>
<polygon points="459.80,365.49 466.75,370.74 466.75,377.14 459.80,379.27 452.85,376.75 452.85,369.85" fill="#59ed00" stroke="#111" stroke-width="0.45" stroke-linejoin="miter"/>
<polygon points="473.70,369.71 480.65,373.22 480.65,377.64 473.70,379.70 466.75,377.14 466.75,370.74" fill="#21e604" stroke="#111" stroke-width="0.45" stroke-linejoin="miter"/>
<polygon points="487.60,371.31 494.55,373.49 494.55,377.70 487.60,379.79 480.65,377.64 480.65,373.22" fill="#19e407" stroke="#111" stroke-width="0.45" stroke-linejoin="miter"/>
<polygon points="369.45,376.58 376.40,376.14 376.40,377.88 369.45,382.75 362.50,382.68 362.50,379.06" fill="#74f000" stroke="#111" stroke-width="0.45" stroke-linejoin="miter"/>
<polygon points="383.35,373.80 390.30,371.17 390.30,371.36 383.35,375.39 376.40,377.88 376.40,376.14" fill="#ffa200" stroke="#111" stroke-width="0.45" stroke-linejoin="miter"/>
<polygon points="397.25,371.04 404.20,370.02 404.20,370.82 397.25,372.43 390.30,371.36 390.30,371.17" fill="#ff2d00" stroke="#111" stroke-width="0.45" stroke-linejoin="miter"/>
<polygon points="411.15,371.48 418.10,373.87 418.10,374.21 411.15,373.42 404.20,370.82 404.20,370.02" fill="#ff6000" stroke="#111" stroke-width="0.45" stroke-linejoin="miter"/>
<polygon points="425.05,373.98 432.00,377.07 432.00,377.64 425.05,375.99 418.10,374.21 418.10,373.87" fill="#f9fe00" stroke="#111" stroke-width="0.45" stroke-linejoin="miter"/>
<polygon points="438.95,376.09 445.90,378.51 445.90,379.84 438.95,377.38 432.00,377.64 432.00,377.07" fill="#96f400" stroke="#111" stroke-width="0.45" stroke-linejoin="miter"/>
<polygon points="452.85,376.75 459.80,379.27 459.80,382.65 452.85,381.71 445.90,379.84 445.90,378.51" fill="#3aea00" stroke="#111" stroke-width="0.45" stroke-linejoin="miter"/>
<polygon points="466.75,377.14 473.70,379.70 473.70,383.84 466.75,385.24 459.80,382.65 459.80,379.27" fill="#1de505" stroke="#111" stroke-width="0.45" stroke-linejoin="miter"/>
<polygon points="480.65,377.64 487.60,379.79 487.60,384.08 480.65,386.42 473.70,383.84 473.70,379.70" fill="#19e407" stroke="#111" stroke-width="0.45" stroke-linejoin="miter"/>
<polygon points="494.55,377.70 501.50,379.80 501.50,384.07 494.55,386.70 487.60,384.08 487.60,379.79" fill="#19e308" stroke="#111" stroke-width="0.45" stroke-linejoin="miter"/>
<polygon points="362.50,382.68 369.45,382.75 369.45,387.17 362.50,390.77 355.55,389.49 355.55,385.50" fill="#42eb00" stroke="#111" stroke-width="0.45" stroke-linejoin="miter"/>
<polygon points="376.40,377.88 383.35,375.39 383.35,381.50 376.40,387.68 369.45,387.17 369.45,382.75" fill="#ffe900" stroke="#111" stroke-width="0.45" stroke-linejoin="miter"/>
<polygon points="390.30,371.36 397.25,372.43 397.25,377.69 390.30,382.30 383.35,381.50 383.35,375.39" fill="#ff2c00" stroke="#111" stroke-width="0.45" stroke-linejoin="miter"/>
<polygon points="404.20,370.82 411.15,373.42 411.15,377.73 404.20,380.19 397.25,377.69 397.25,372.43" fill="#ff1d00" stroke="#111" stroke-width="0.45" stroke-linejoin="miter"/>
<polygon points="418.10,374.21 425.05,375.99 425.05,377.27 418.10,379.59 411.15,377.73 411.15,373.42" fill="#ff3100" stroke="#111" stroke-width="0.45" stroke-linejoin="miter"/>
<polygon points="432.00,377.64 438.95,377.38 438.95,376.91 432.00,378.01 425.05,377.27 425.05,375.99" fill="#ff3000" stroke="#111" stroke-width="0.45" stroke-linejoin="miter"/>
<polygon points="445.90,379.84 452.85,381.71 452.85,381.84 445.90,379.38 438.95,376.91 438.95,377.38" fill="#ff7200" stroke="#111" stroke-width="0.45" stroke-linejoin="miter"/>
<polygon points="459.80,382.65 466.75,385.24 466.75,389.16 459.80,387.54 452.85,381.84 452.85,381.71" fill="#9df500" stroke="#111" stroke-width="0.45" stroke-linejoin="miter"/>
<polygon points="473.70,383.84 480.65,386.42 480.65,394.23 473.70,394.98 466.75,389.16 466.75,385.24" fill="#16e309" stroke="#111" stroke-width="0.45" stroke-linejoin="miter"/>
<polygon points="487.60,384.08 494.55,386.70 494.55,395.93 487.60,401.25 480.65,394.23 480.65,386.42" fill="#02dd13" stroke="#111" stroke-width="0.45" stroke-linejoin="miter"/>
<polygon points="501.50,384.07 508.45,386.37 508.45,393.07 501.50,400.12 494.55,395.93 494.55,386.70" fill="#08de10" stroke="#111" stroke-width="0.45" stroke-linejoin="miter"/>
<polygon points="355.55,389.49 362.50,390.77 362.50,395.32 355.55,397.75 348.60,395.96 348.60,391.91" fill="#27e801" stroke="#111" stroke-width="0.45" stroke-linejoin="miter"/>
<polygon points="369.45,387.17 376.40,387.68 376.40,394.28 369.45,398.14 362.50,395.32 362.50,390.77" fill="#67ef00" stroke="#111" stroke-width="0.45" stroke-linejoin="miter"/>
<polygon points="383.35,381.50 390.30,382.30 390.30,389.15 383.35,395.54 376.40,394.28 376.40,387.68" fill="#fff200" stroke="#111" stroke-width="0.45" stroke-linejoin="miter"/>
<polygon points="397.25,377.69 404.20,380.19 404.20,385.30 397.25,389.58 390.30,389.15 390.30,382.30" fill="#ff6100" stroke="#111" stroke-width="0.45" stroke-linejoin="miter"/>
<polygon points="411.15,377.73 418.10,379.59 418.10,383.83 411.15,386.81 404.20,385.30 404.20,380.19" fill="#ff3200" stroke="#111" stroke-width="0.45" stroke-linejoin="miter"/>
<polygon points="425.05,377.27 432.00,378.01 432.00,382.26 425.05,385.61 418.10,383.83 418.10,379.59" fill="#ff1200" stroke="#111" stroke-width="0.45" stroke-linejoin="miter"/>
<polygon points="438.95,376.91 445.90,379.38 445.90,383.62 438.95,385.25 432.00,382.26 432.00,378.01" fill="#ff0500" stroke="#111" stroke-width="0.45" stroke-linejoin="miter"/>
<polygon points="452.85,381.84 459.80,387.54 459.80,391.34 452.85,389.28 445.90,383.62 445.90,379.38" fill="#ff6a00" stroke="#111" stroke-width="0.45" stroke-linejoin="miter"/>
<polygon points="466.75,389.16 473.70,394.98 473.70,398.44 466.75,396.89 459.80,391.34 459.80,387.54" fill="#30e900" stroke="#111" stroke-width="0.45" stroke-linejoin="miter"/>
<polygon points="480.65,394.23 487.60,401.25 487.60,406.11 480.65,404.45 473.70,398.44 473.70,394.98" fill="#00a6e4" stroke="#111" stroke-width="0.45" stroke-linejoin="miter"/>
<polygon points="494.55,395.93 501.50,400.12 501.50,410.44 494.55,413.58 487.60,406.11 487.60,401.25" fill="#0020ca" stroke="#111" stroke-width="0.45" stroke-linejoin="miter"/>
<polygon points="508.45,393.07 515.40,395.86 515.40,408.52 508.45,413.70 501.50,410.44 501.50,400.12" fill="#006aff" stroke="#111" stroke-width="0.45" stroke-linejoin="miter"/>
<polygon points="341.65,402.59 341.65,398.33 341.65,413.70 341.65,417.90" fill="#f4a4a4" stroke="#111" stroke-width="0.4" stroke-linejoin="miter"/>
<polygon points="348.60,404.54 341.65,402.59 341.65,417.90 348.60,420.00" fill="#f4a4a4" stroke="#111" stroke-width="0.4" stroke-linejoin="miter"/>
<polygon points="522.35,413.04 522.35,417.90 522.35,417.90 522.35,413.70" fill="#f4a4a4" stroke="#111" stroke-width="0.4" stroke-linejoin="miter"/>
<polygon points="348.60,395.96 355.55,397.75 355.55,402.14 348.60,404.54 341.65,402.59 341.65,398.33" fill="#21e603" stroke="#111" stroke-width="0.45" stroke-linejoin="miter"/>
<polygon points="362.50,395.32 369.45,398.14 369.45,402.90 362.50,404.35 355.55,402.14 355.55,397.75" fill="#22e603" stroke="#111" stroke-width="0.45" stroke-linejoin="miter"/>
<polygon points="376.40,394.28 383.35,395.54 383.35,400.96 376.40,404.39 369.45,402.90 369.45,398.14" fill="#1ae407" stroke="#111" stroke-width="0.45" stroke-linejoin="miter"/>
<polygon points="390.30,389.15 397.25,389.58 397.25,395.69 390.30,400.83 383.35,400.96 383.35,395.54" fill="#fffe00" stroke="#111" stroke-width="0.45" stroke-linejoin="miter"/>
<polygon points="404.20,385.30 411.15,386.81 411.15,393.63 404.20,398.14 397.25,395.69 397.25,389.58" fill="#ff7800" stroke="#111" stroke-width="0.45" stroke-linejoin="miter"/>
<polygon points="418.10,383.83 425.05,385.61 425.05,392.06 418.10,397.19 411.15,393.63 411.15,386.81" fill="#ff3c00" stroke="#111" stroke-width="0.45" stroke-linejoin="miter"/>
<polygon points="432.00,382.26 438.95,385.25 438.95,390.96 432.00,395.55 425.05,392.06 425.05,385.61" fill="#ff2900" stroke="#111" stroke-width="0.45" stroke-linejoin="miter"/>
<polygon points="445.90,383.62 452.85,389.28 452.85,394.15 445.90,394.98 438.95,390.96 438.95,385.25" fill="#ff3900" stroke="#111" stroke-width="0.45" stroke-linejoin="miter"/>
<polygon points="459.80,391.34 466.75,396.89 466.75,401.87 459.80,399.89 452.85,394.15 452.85,389.28" fill="#f3fe00" stroke="#111" stroke-width="0.45" stroke-linejoin="miter"/>
<polygon points="473.70,398.44 480.65,404.45 480.65,417.22 473.70,413.53 466.75,401.87 466.75,396.89" fill="#00d92d" stroke="#111" stroke-width="0.45" stroke-linejoin="miter"/>
<polygon points="487.60,406.11 494.55,413.58 494.55,417.90 487.60,420.00 480.65,417.22 480.65,404.45" fill="#000027" stroke="#111" stroke-width="0.45" stroke-linejoin="miter"/>
<polygon points="501.50,410.44 508.45,413.70 508.45,417.90 501.50,420.00 494.55,417.90 494.55,413.58" fill="#000000" stroke="#111" stroke-width="0.45" stroke-linejoin="miter"/>
<polygon points="515.40,408.52 522.35,413.04 522.35,417.90 515.40,420.00 508.45,417.90 508.45,413.70" fill="#000000" stroke="#111" stroke-width="0.45" stroke-linejoin="miter"/>
<polygon points="348.60,408.96 348.60,404.54 348.60,420.00 348.60,424.20" fill="#f4a4a4" stroke="#111" stroke-width="0.4" stroke-linejoin="miter"/>
<polygon points="355.55,411.07 348.60,408.96 348.60,424.20 355.55,426.30" fill="#f4a4a4" stroke="#111" stroke-width="0.4" stroke-linejoin="miter"/>
<polygon points="515.40,419.14 508.45,424.40 508.45,426.30 515.40,424.20" fill="#f4a4a4" stroke="#111" stroke-width="0.4" stroke-linejoin="miter"/>
<polygon points="515.40,420.00 515.40,419.14 515.40,424.20 515.40,420.00" fill="#f4a4a4" stroke="#111" stroke-width="0.4" stroke-linejoin="miter"/>
<polygon points="355.55,402.14 362.50,404.35 362.50,408.65 355.55,411.07 348.60,408.96 348.60,404.54" fill="#20e604" stroke="#111" stroke-width="0.45" stroke-linejoin="miter"/>
<polygon points="369.45,402.90 376.40,404.39 376.40,408.13 369.45,410.79 362.50,408.65 362.50,404.35" fill="#23e603" stroke="#111" stroke-width="0.45" stroke-linejoin="miter"/>
<polygon points="383.35,400.96 390.30,400.83 390.30,406.77 383.35,410.21 376.40,408.13 376.40,404.39" fill="#5aed00" stroke="#111" stroke-width="0.45" stroke-linejoin="miter"/>
<polygon points="397.25,395.69 404.20,398.14 404.20,405.75 397.25,409.44 390.30,406.77 390.30,400.83" fill="#d0fa00" stroke="#111" stroke-width="0.45" stroke-linejoin="miter"/>
<polygon points="411.15,393.63 418.10,397.19 418.10,405.35 411.15,409.05 404.20,405.75 404.20,398.14" fill="#fafe00" stroke="#111" stroke-width="0.45" stroke-linejoin="miter"/>
<polygon points="425.05,392.06 432.00,395.55 432.00,404.27 425.05,408.72 418.10,405.35 418.10,397.19" fill="#ffe900" stroke="#111" stroke-width="0.45" stroke-linejoin="miter"/>
<polygon points="438.95,390.96 445.90,394.98 445.90,403.20 438.95,407.81 432.00,404.27 432.00,395.55" fill="#ffae00" stroke="#111" stroke-width="0.45" stroke-linejoin="miter"/>
<polygon points="452.85,394.15 459.80,399.89 459.80,406.10 452.85,408.24 445.90,403.20 445.90,394.98" fill="#ffce00" stroke="#111" stroke-width="0.45" stroke-linejoin="miter"/>
<polygon points="466.75,401.87 473.70,413.53 473.70,415.54 466.75,412.98 459.80,406.10 459.80,399.89" fill="#1be406" stroke="#111" stroke-width="0.45" stroke-linejoin="miter"/>
<polygon points="480.65,417.22 487.60,420.00 487.60,424.20 480.65,422.93 473.70,415.54 473.70,413.53" fill="#000000" stroke="#111" stroke-width="0.45" stroke-linejoin="miter"/>
<polygon points="494.55,417.90 501.50,420.00 501.50,424.20 494.55,426.30 487.60,424.20 487.60,420.00" fill="#000000" stroke="#111" stroke-width="0.45" stroke-linejoin="miter"/>
<polygon points="508.45,417.90 515.40,420.00 515.40,419.14 508.45,424.40 501.50,424.20 501.50,420.00" fill="#000000" stroke="#111" stroke-width="0.45" stroke-linejoin="miter"/>
<polygon points="355.55,415.60 355.55,411.07 355.55,426.30 355.55,430.50" fill="#f4a4a4" stroke="#111" stroke-width="0.4" stroke-linejoin="miter"/>
<polygon points="362.50,418.29 355.55,415.60 355.55,430.50 362.50,432.60" fill="#f4a4a4" stroke="#111" stroke-width="0.4" stroke-linejoin="miter"/>
<polygon points="508.45,424.40 508.45,430.50 508.45,430.50 508.45,426.30" fill="#f4a4a4" stroke="#111" stroke-width="0.4" stroke-linejoin="miter"/>
<polygon points="362.50,408.65 369.45,410.79 369.45,415.85 362.50,418.29 355.55,415.60 355.55,411.07" fill="#1be407" stroke="#111" stroke-width="0.45" stroke-linejoin="miter"/>
<polygon points="376.40,408.13 383.35,410.21 383.35,415.91 376.40,419.07 369.45,415.85 369.45,410.79" fill="#1de506" stroke="#111" stroke-width="0.45" stroke-linejoin="miter"/>
<polygon points="390.30,406.77 397.25,409.44 397.25,415.41 390.30,419.03 383.35,415.91 383.35,410.21" fill="#22e603" stroke="#111" stroke-width="0.45" stroke-linejoin="miter"/>
<polygon points="404.20,405.75 411.15,409.05 411.15,414.98 404.20,417.44 397.25,415.41 397.25,409.44" fill="#28e800" stroke="#111" stroke-width="0.45" stroke-linejoin="miter"/>
<polygon points="418.10,405.35 425.05,408.72 425.05,414.85 418.10,417.44 411.15,414.98 411.15,409.05" fill="#32e900" stroke="#111" stroke-width="0.45" stroke-linejoin="miter"/>
<polygon points="432.00,404.27 438.95,407.81 438.95,414.71 432.00,417.33 425.05,414.85 425.05,408.72" fill="#42eb00" stroke="#111" stroke-width="0.45" stroke-linejoin="miter"/>
<polygon points="445.90,403.20 452.85,408.24 452.85,415.39 445.90,417.48 438.95,414.71 438.95,407.81" fill="#4fec00" stroke="#111" stroke-width="0.45" stroke-linejoin="miter"/>
<polygon points="459.80,406.10 466.75,412.98 466.75,421.12 459.80,421.39 452.85,415.39 452.85,408.24" fill="#18e308" stroke="#111" stroke-width="0.45" stroke-linejoin="miter"/>
<polygon points="473.70,415.54 480.65,422.93 480.65,429.89 473.70,429.23 466.75,421.12 466.75,412.98" fill="#007eff" stroke="#111" stroke-width="0.45" stroke-linejoin="miter"/>
<polygon points="487.60,424.20 494.55,426.30 494.55,430.50 487.60,432.60 480.65,429.89 480.65,422.93" fill="#000000" stroke="#111" stroke-width="0.45" stroke-linejoin="miter"/>
<polygon points="501.50,424.20 508.45,424.40 508.45,430.50 501.50,432.60 494.55,430.50 494.55,426.30" fill="#000000" stroke="#111" stroke-width="0.45" stroke-linejoin="miter"/>
<polygon points="362.50,423.95 362.50,418.29 362.50,432.60 362.50,436.80" fill="#f4a4a4" stroke="#111" stroke-width="0.4" stroke-linejoin="miter"/>
<polygon points="369.45,428.75 362.50,423.95 362.50,436.80 369.45,438.90" fill="#f4a4a4" stroke="#111" stroke-width="0.4" stroke-linejoin="miter"/>
<polygon points="501.50,436.80 494.55,435.51 494.55,438.90 501.50,436.80" fill="#f4a4a4" stroke="#111" stroke-width="0.4" stroke-linejoin="miter"/>
<polygon points="369.45,415.85 376.40,419.07 376.40,426.40 369.45,428.75 362.50,423.95 362.50,418.29" fill="#04dd12" stroke="#111" stroke-width="0.45" stroke-linejoin="miter"/>
<polygon points="383.35,415.91 390.30,419.03 390.30,426.38 383.35,431.23 376.40,426.40 376.40,419.07" fill="#00d63e" stroke="#111" stroke-width="0.45" stroke-linejoin="miter"/>
<polygon points="397.25,415.41 404.20,417.44 404.20,416.76 397.25,423.83 390.30,426.38 390.30,419.03" fill="#0fe00d" stroke="#111" stroke-width="0.45" stroke-linejoin="miter"/>
<polygon points="411.15,414.98 418.10,417.44 418.10,421.87 411.15,418.62 404.20,416.76 404.20,417.44" fill="#27e800" stroke="#111" stroke-width="0.45" stroke-linejoin="miter"/>
<polygon points="425.05,414.85 432.00,417.33 432.00,422.09 425.05,425.29 418.10,421.87 418.10,417.44" fill="#18e308" stroke="#111" stroke-width="0.45" stroke-linejoin="miter"/>
<polygon points="438.95,414.71 445.90,417.48 445.90,422.22 438.95,424.29 432.00,422.09 432.00,417.33" fill="#1ae407" stroke="#111" stroke-width="0.45" stroke-linejoin="miter"/>
<polygon points="452.85,415.39 459.80,421.39 459.80,427.87 452.85,425.99 445.90,422.22 445.90,417.48" fill="#08de10" stroke="#111" stroke-width="0.45" stroke-linejoin="miter"/>
<polygon points="466.75,421.12 473.70,429.23 473.70,434.00 466.75,433.22 459.80,427.87 459.80,421.39" fill="#0047ff" stroke="#111" stroke-width="0.45" stroke-linejoin="miter"/>
<polygon points="480.65,429.89 487.60,432.60 487.60,434.58 480.65,433.35 473.70,434.00 473.70,429.23" fill="#000034" stroke="#111" stroke-width="0.45" stroke-linejoin="miter"/>
<polygon points="494.55,430.50 501.50,432.60 501.50,436.80 494.55,435.51 487.60,434.58 487.60,432.60" fill="#000000" stroke="#111" stroke-width="0.45" stroke-linejoin="miter"/>
<polygon points="369.45,435.07 369.45,428.75 369.45,438.90 369.45,443.10" fill="#f4a4a4" stroke="#111" stroke-width="0.4" stroke-linejoin="miter"/>
<polygon points="376.40,439.76 369.45,435.07 369.45,443.10 376.40,445.20" fill="#f4a4a4" stroke="#111" stroke-width="0.4" stroke-linejoin="miter"/>
<polygon points="494.55,434.72 487.60,436.44 487.60,445.20 494.55,443.10" fill="#f4a4a4" stroke="#111" stroke-width="0.4" stroke-linejoin="miter"/>
<polygon points="494.55,435.51 494.55,434.72 494.55,443.10 494.55,438.90" fill="#f4a4a4" stroke="#111" stroke-width="0.4" stroke-linejoin="miter"/>
<polygon points="376.40,426.40 383.35,431.23 383.35,438.60 376.40,439.76 369.45,435.07 369.45,428.75" fill="#007eff" stroke="#111" stroke-width="0.45" stroke-linejoin="miter"/>
<polygon points="390.30,426.38 397.25,423.83 397.25,433.76 390.30,440.64 383.35,438.60 383.35,431.23" fill="#0079ff" stroke="#111" stroke-width="0.45" stroke-linejoin="miter"/>
<polygon points="404.20,416.76 411.15,418.62 411.15,429.92 404.20,436.90 397.25,433.76 397.25,423.83" fill="#ffe100" stroke="#111" stroke-width="0.45" stroke-linejoin="miter"/>
<polygon points="418.10,421.87 425.05,425.29 425.05,433.55 418.10,441.01 411.15,429.92 411.15,418.62" fill="#01dc14" stroke="#111" stroke-width="0.45" stroke-linejoin="miter"/>
<polygon points="432.00,422.09 438.95,424.29 438.95,429.99 432.00,435.96 425.05,433.55 425.05,425.29" fill="#08de10" stroke="#111" stroke-width="0.45" stroke-linejoin="miter"/>
<polygon points="445.90,422.22 452.85,425.99 452.85,431.41 445.90,434.85 438.95,429.99 438.95,424.29" fill="#0ee00d" stroke="#111" stroke-width="0.45" stroke-linejoin="miter"/>
<polygon points="459.80,427.87 466.75,433.22 466.75,432.98 459.80,434.55 452.85,431.41 452.85,425.99" fill="#00cd85" stroke="#111" stroke-width="0.45" stroke-linejoin="miter"/>
<polygon points="473.70,434.00 480.65,433.35 480.65,434.20 473.70,435.69 466.75,432.98 466.75,433.22" fill="#008fff" stroke="#111" stroke-width="0.45" stroke-linejoin="miter"/>
<polygon points="487.60,434.58 494.55,435.51 494.55,434.72 487.60,436.44 480.65,434.20 480.65,433.35" fill="#009bf6" stroke="#111" stroke-width="0.45" stroke-linejoin="miter"/>
<polygon points="376.40,442.72 376.40,439.76 376.40,445.20 376.40,449.40" fill="#f4a4a4" stroke="#111" stroke-width="0.4" stroke-linejoin="miter"/>
<polygon points="383.35,444.86 376.40,442.72 376.40,449.40 383.35,451.50" fill="#f4a4a4" stroke="#111" stroke-width="0.4" stroke-linejoin="miter"/>
<polygon points="487.60,441.86 480.65,444.37 480.65,451.50 487.60,449.40" fill="#f4a4a4" stroke="#111" stroke-width="0.4" stroke-linejoin="miter"/>
<polygon points="487.60,436.44 487.60,441.86 487.60,449.40 487.60,445.20" fill="#f4a4a4" stroke="#111" stroke-width="0.4" stroke-linejoin="miter"/>
<polygon points="383.35,438.60 390.30,440.64 390.30,443.85 383.35,444.86 376.40,442.72 376.40,439.76" fill="#003bff" stroke="#111" stroke-width="0.45" stroke-linejoin="miter"/>
<polygon points="397.25,433.76 404.20,436.90 404.20,447.50 397.25,446.68 390.30,443.85 390.30,440.64" fill="#004aff" stroke="#111" stroke-width="0.45" stroke-linejoin="miter"/>
<polygon points="411.15,429.92 418.10,441.01 418.10,449.40 411.15,451.50 404.20,447.50 404.20,436.90" fill="#00002d" stroke="#111" stroke-width="0.45" stroke-linejoin="miter"/>
<polygon points="425.05,433.55 432.00,435.96 432.00,446.82 425.05,451.50 418.10,449.40 418.10,441.01" fill="#00002e" stroke="#111" stroke-width="0.45" stroke-linejoin="miter"/>
<polygon points="438.95,429.99 445.90,434.85 445.90,444.33 438.95,446.26 432.00,446.82 432.00,435.96" fill="#00bac2" stroke="#111" stroke-width="0.45" stroke-linejoin="miter"/>
<polygon points="452.85,431.41 459.80,434.55 459.80,441.84 452.85,448.55 445.90,444.33 445.90,434.85" fill="#0060ff" stroke="#111" stroke-width="0.45" stroke-linejoin="miter"/>
<polygon points="466.75,432.98 473.70,435.69 473.70,441.02 466.75,442.36 459.80,441.84 459.80,434.55" fill="#00cc8f" stroke="#111" stroke-width="0.45" stroke-linejoin="miter"/>
<polygon points="480.65,434.20 487.60,436.44 487.60,441.86 480.65,444.37 473.70,441.02 473.70,435.69" fill="#009bf7" stroke="#111" stroke-width="0.45" stroke-linejoin="miter"/>
<polygon points="397.25,450.33 390.30,449.77 390.30,457.80 397.25,455.70" fill="#f4a4a4" stroke="#111" stroke-width="0.4" stroke-linejoin="miter"/>
<polygon points="383.35,447.94 383.35,444.86 383.35,451.50 383.35,455.70" fill="#f4a4a4" stroke="#111" stroke-width="0.4" stroke-linejoin="miter"/>
<polygon points="390.30,449.77 383.35,447.94 383.35,455.70 390.30,457.80" fill="#f4a4a4" stroke="#111" stroke-width="0.4" stroke-linejoin="miter"/>
<polygon points="411.15,455.70 404.20,455.28 404.20,457.80 411.15,455.70" fill="#f4a4a4" stroke="#111" stroke-width="0.4" stroke-linejoin="miter"/>
<polygon points="404.20,455.28 397.25,450.33 397.25,455.70 404.20,457.80" fill="#f4a4a4" stroke="#111" stroke-width="0.4" stroke-linejoin="miter"/>
<polygon points="438.95,451.24 432.00,457.13 432.00,457.80 438.95,455.70" fill="#f4a4a4" stroke="#111" stroke-width="0.4" stroke-linejoin="miter"/>
<polygon points="432.00,457.13 425.05,455.70 425.05,455.70 432.00,457.80" fill="#f4a4a4" stroke="#111" stroke-width="0.4" stroke-linejoin="miter"/>
<polygon points="452.85,449.45 445.90,450.30 445.90,457.80 452.85,455.70" fill="#f4a4a4" stroke="#111" stroke-width="0.4" stroke-linejoin="miter"/>
<polygon points="445.90,450.30 438.95,451.24 438.95,455.70 445.90,457.80" fill="#f4a4a4" stroke="#111" stroke-width="0.4" stroke-linejoin="miter"/>
<polygon points="466.75,446.93 459.80,449.06 459.80,457.80 466.75,455.70" fill="#f4a4a4" stroke="#111" stroke-width="0.4" stroke-linejoin="miter"/>
<polygon points="459.80,449.06 452.85,449.45 452.85,455.70 459.80,457.80" fill="#f4a4a4" stroke="#111" stroke-width="0.4" stroke-linejoin="miter"/>
<polygon points="480.65,447.59 473.70,448.83 473.70,457.80 480.65,455.70" fill="#f4a4a4" stroke="#111" stroke-width="0.4" stroke-linejoin="miter"/>
<polygon points="480.65,444.37 480.65,447.59 480.65,455.70 480.65,451.50" fill="#f4a4a4" stroke="#111" stroke-width="0.4" stroke-linejoin="miter"/>
<polygon points="473.70,448.83 466.75,446.93 466.75,455.70 473.70,457.80" fill="#f4a4a4" stroke="#111" stroke-width="0.4" stroke-linejoin="miter"/>
<polygon points="390.30,443.85 397.25,446.68 397.25,450.33 390.30,449.77 383.35,447.94 383.35,444.86" fill="#007dff" stroke="#111" stroke-width="0.45" stroke-linejoin="miter"/>
<polygon points="404.20,447.50 411.15,451.50 411.15,455.70 404.20,455.28 397.25,450.33 397.25,446.68" fill="#000000" stroke="#111" stroke-width="0.45" stroke-linejoin="miter"/>
<polygon points="418.10,449.40 425.05,451.50 425.05,455.70 418.10,457.80 411.15,455.70 411.15,451.50" fill="#000000" stroke="#111" stroke-width="0.45" stroke-linejoin="miter"/>
<polygon points="432.00,446.82 438.95,446.26 438.95,451.24 432.00,457.13 425.05,455.70 425.05,451.50" fill="#000000" stroke="#111" stroke-width="0.45" stroke-linejoin="miter"/>
<polygon points="445.90,444.33 452.85,448.55 452.85,449.45 445.90,450.30 438.95,451.24 438.95,446.26" fill="#003cff" stroke="#111" stroke-width="0.45" stroke-linejoin="miter"/>
<polygon points="459.80,441.84 466.75,442.36 466.75,446.93 459.80,449.06 452.85,449.45 452.85,448.55" fill="#008dff" stroke="#111" stroke-width="0.45" stroke-linejoin="miter"/>
<polygon points="473.70,441.02 480.65,444.37 480.65,447.59 473.70,448.83 466.75,446.93 466.75,442.36" fill="#00a4e7" stroke="#111" stroke-width="0.45" stroke-linejoin="miter"/>
</g>
<g stroke-linejoin="round">
<polygon points="388.30,526.14 395.25,527.00 395.25,531.69 388.30,535.45 381.35,533.89 381.35,529.10" fill="#23e602" stroke="#111" stroke-width="0.45" stroke-linejoin="miter"/>
<polygon points="402.20,526.60 409.15,529.82 409.15,534.26 402.20,535.66 395.25,531.69 395.25,527.00" fill="#23e602" stroke="#111" stroke-width="0.45" stroke-linejoin="miter"/>
<polygon points="416.10,530.58 423.05,534.27 423.05,538.36 416.10,539.02 409.15,534.26 409.15,529.82" fill="#00c8aa" stroke="#111" stroke-width="0.45" stroke-linejoin="miter"/>
<polygon points="430.00,534.10 436.95,536.91 436.95,540.79 430.00,542.00 423.05,538.36 423.05,534.27" fill="#0043ff" stroke="#111" stroke-width="0.45" stroke-linejoin="miter"/>
<polygon points="443.90,535.60 450.85,537.74 450.85,541.55 443.90,543.27 436.95,540.79 436.95,536.91" fill="#0043ff" stroke="#111" stroke-width="0.45" stroke-linejoin="miter"/>
<polygon points="457.80,535.95 464.75,537.88 464.75,541.69 457.80,543.58 450.85,541.55 450.85,537.74" fill="#00067e" stroke="#111" stroke-width="0.45" stroke-linejoin="miter"/>
<polygon points="471.70,536.00 478.65,537.90 478.65,541.70 471.70,543.62 464.75,541.69 464.75,537.88" fill="#000000" stroke="#000" stroke-width="0.45" stroke-linejoin="miter"/>
<polygon points="381.35,533.89 388.30,535.45 388.30,542.85 381.35,548.43 374.40,547.51 374.40,539.76" fill="#0053ff" stroke="#111" stroke-width="0.45" stroke-linejoin="miter"/>
<polygon points="395.25,531.69 402.20,535.66 402.20,542.68 395.25,545.95 388.30,542.85 388.30,535.45" fill="#23e602" stroke="#111" stroke-width="0.45" stroke-linejoin="miter"/>
<polygon points="409.15,534.26 416.10,539.02 416.10,544.73 409.15,546.83 402.20,542.68 402.20,535.66" fill="#000000" stroke="#000" stroke-width="0.45" stroke-linejoin="miter"/>
<polygon points="423.05,538.36 430.00,542.00 430.00,546.51 423.05,548.30 416.10,544.73 416.10,539.02" fill="#0043ff" stroke="#111" stroke-width="0.45" stroke-linejoin="miter"/>
<polygon points="436.95,540.79 443.90,543.27 443.90,547.27 436.95,549.12 430.00,546.51 430.00,542.00" fill="#0043ff" stroke="#111" stroke-width="0.45" stroke-linejoin="miter"/>
<polygon points="450.85,541.55 457.80,543.58 457.80,547.58 450.85,549.56 443.90,547.27 443.90,543.27" fill="#00067e" stroke="#111" stroke-width="0.45" stroke-linejoin="miter"/>
<polygon points="464.75,541.69 471.70,543.62 471.70,547.63 464.75,549.92 457.80,547.58 457.80,543.58" fill="#00067e" stroke="#111" stroke-width="0.45" stroke-linejoin="miter"/>
<polygon points="478.65,541.70 485.60,543.60 485.60,547.45 478.65,549.63 471.70,547.63 471.70,543.62" fill="#19e407" stroke="#111" stroke-width="0.45" stroke-linejoin="miter"/>
<polygon points="374.40,547.51 381.35,548.43 381.35,555.63 374.40,563.46 367.45,564.11 367.45,555.00" fill="#000000" stroke="#000" stroke-width="0.45" stroke-linejoin="miter"/>
<polygon points="388.30,542.85 395.25,545.95 395.25,552.73 388.30,556.56 381.35,555.63 381.35,548.43" fill="#0053ff" stroke="#111" stroke-width="0.45" stroke-linejoin="miter"/>
<polygon points="402.20,542.68 409.15,546.83 409.15,553.10 402.20,556.04 395.25,552.73 395.25,545.95" fill="#000000" stroke="#000" stroke-width="0.45" stroke-linejoin="miter"/>
<polygon points="416.10,544.73 423.05,548.30 423.05,553.51 416.10,556.33 409.15,553.10 409.15,546.83" fill="#000000" stroke="#000" stroke-width="0.45" stroke-linejoin="miter"/>
<polygon points="430.00,546.51 436.95,549.12 436.95,553.55 430.00,556.04 423.05,553.51 423.05,548.30" fill="#00067e" stroke="#111" stroke-width="0.45" stroke-linejoin="miter"/>
<polygon points="443.90,547.27 450.85,549.56 450.85,554.22 443.90,556.04 436.95,553.55 436.95,549.12" fill="#00067e" stroke="#111" stroke-width="0.45" stroke-linejoin="miter"/>
<polygon points="457.80,547.58 464.75,549.92 464.75,555.37 457.80,557.80 450.85,554.22 450.85,549.56" fill="#00067e" stroke="#111" stroke-width="0.45" stroke-linejoin="miter"/>
<polygon points="471.70,547.63 478.65,549.63 478.65,554.29 471.70,558.00 464.75,555.37 464.75,549.92" fill="#19e407" stroke="#111" stroke-width="0.45" stroke-linejoin="miter"/>
<polygon points="485.60,547.45 492.55,549.29 492.55,552.99 485.60,555.51 478.65,554.29 478.65,549.63" fill="#19e407" stroke="#111" stroke-width="0.45" stroke-linejoin="miter"/>
<polygon points="367.45,564.11 374.40,563.46 374.40,569.51 367.45,576.66 360.50,576.13 360.50,569.73" fill="#000000" stroke="#000" stroke-width="0.45" stroke-linejoin="miter"/>
<polygon points="381.35,555.63 388.30,556.56 388.30,562.55 381.35,567.27 374.40,569.51 374.40,563.46" fill="#0064ff" stroke="#111" stroke-width="0.45" stroke-linejoin="miter"/>
<polygon points="395.25,552.73 402.20,556.04 402.20,562.54 395.25,565.24 388.30,562.55 388.30,556.56" fill="#0064ff" stroke="#111" stroke-width="0.45" stroke-linejoin="miter"/>
<polygon points="409.15,553.10 416.10,556.33 416.10,562.57 409.15,565.96 402.20,562.54 402.20,556.04" fill="#0064ff" stroke="#111" stroke-width="0.45" stroke-linejoin="miter"/>
<polygon points="423.05,553.51 430.00,556.04 430.00,561.30 423.05,564.93 416.10,562.57 416.10,556.33" fill="#0064ff" stroke="#111" stroke-width="0.45" stroke-linejoin="miter"/>
<polygon points="436.95,553.55 443.90,556.04 443.90,560.56 436.95,562.86 430.00,561.30 430.00,556.04" fill="#000000" stroke="#000" stroke-width="0.45" stroke-linejoin="miter"/>
<polygon points="450.85,554.22 457.80,557.80 457.80,562.85 450.85,563.12 443.90,560.56 443.90,556.04" fill="#000000" stroke="#000" stroke-width="0.45" stroke-linejoin="miter"/>
<polygon points="464.75,555.37 471.70,558.00 471.70,563.01 464.75,565.31 457.80,562.85 457.80,557.80" fill="#000000" stroke="#000" stroke-width="0.45" stroke-linejoin="miter"/>
<polygon points="478.65,554.29 485.60,555.51 485.60,559.01 478.65,562.54 471.70,563.01 471.70,558.00" fill="#19e407" stroke="#111" stroke-width="0.45" stroke-linejoin="miter"/>
<polygon points="492.55,552.99 499.50,554.32 499.50,556.78 492.55,558.69 485.60,559.01 485.60,555.51" fill="#19e407" stroke="#111" stroke-width="0.45" stroke-linejoin="miter"/>
<polygon points="360.50,580.29 353.55,577.22 353.55,590.22 360.50,593.29" fill="#f4a4a4" stroke="#111" stroke-width="0.4" stroke-linejoin="miter"/>
<polygon points="367.45,578.56 360.50,580.29 360.50,593.29 367.45,591.56" fill="#f4a4a4" stroke="#111" stroke-width="0.4" stroke-linejoin="miter"/>
<polygon points="360.50,576.13 367.45,576.66 367.45,578.56 360.50,580.29 353.55,577.22 353.55,574.45" fill="#ffff00" stroke="#111" stroke-width="0.45" stroke-linejoin="miter"/>
<polygon points="374.40,569.51 381.35,567.27 381.35,571.15 374.40,575.32 367.45,578.56 367.45,576.66" fill="#00067e" stroke="#111" stroke-width="0.45" stroke-linejoin="miter"/>
<polygon points="388.30,562.55 395.25,565.24 395.25,570.37 388.30,571.73 381.35,571.15 381.35,567.27" fill="#0064ff" stroke="#111" stroke-width="0.45" stroke-linejoin="miter"/>
<polygon points="402.20,562.54 409.15,565.96 409.15,571.40 402.20,573.00 395.25,570.37 395.25,565.24" fill="#0064ff" stroke="#111" stroke-width="0.45" stroke-linejoin="miter"/>
<polygon points="416.10,562.57 423.05,564.93 423.05,569.82 416.10,572.84 409.15,571.40 409.15,565.96" fill="#0064ff" stroke="#111" stroke-width="0.45" stroke-linejoin="miter"/>
<polygon points="430.00,561.30 436.95,562.86 436.95,566.24 430.00,569.58 423.05,569.82 423.05,564.93" fill="#000000" stroke="#000" stroke-width="0.45" stroke-linejoin="miter"/>
<polygon points="443.90,560.56 450.85,563.12 450.85,565.10 443.90,565.84 436.95,566.24 436.95,562.86" fill="#000000" stroke="#000" stroke-width="0.45" stroke-linejoin="miter"/>
<polygon points="457.80,562.85 464.75,565.31 464.75,566.70 457.80,566.54 450.85,565.10 450.85,563.12" fill="#000000" stroke="#000" stroke-width="0.45" stroke-linejoin="miter"/>
<polygon points="471.70,563.01 478.65,562.54 478.65,564.56 471.70,566.94 464.75,566.70 464.75,565.31" fill="#000000" stroke="#000" stroke-width="0.45" stroke-linejoin="miter"/>
<polygon points="485.60,559.01 492.55,558.69 492.55,560.68 485.60,563.80 478.65,564.56 478.65,562.54" fill="#19e407" stroke="#111" stroke-width="0.45" stroke-linejoin="miter"/>
<polygon points="499.50,556.78 506.45,557.23 506.45,558.64 499.50,560.44 492.55,560.68 492.55,558.69" fill="#19e407" stroke="#111" stroke-width="0.45" stroke-linejoin="miter"/>
<polygon points="353.55,581.88 346.60,578.91 346.60,591.91 353.55,594.88" fill="#f4a4a4" stroke="#111" stroke-width="0.4" stroke-linejoin="miter"/>
<polygon points="360.50,580.94 353.55,581.88 353.55,594.88 360.50,593.94" fill="#f4a4a4" stroke="#111" stroke-width="0.4" stroke-linejoin="miter"/>
<polygon points="506.45,566.24 499.50,564.23 499.50,582.23 506.45,584.24" fill="#f4a4a4" stroke="#111" stroke-width="0.4" stroke-linejoin="miter"/>
<polygon points="513.40,563.82 506.45,566.24 506.45,584.24 513.40,581.82" fill="#f4a4a4" stroke="#111" stroke-width="0.4" stroke-linejoin="miter"/>
<polygon points="353.55,577.22 360.50,580.29 360.50,580.94 353.55,581.88 346.60,578.91 346.60,574.59" fill="#ffff00" stroke="#111" stroke-width="0.45" stroke-linejoin="miter"/>
<polygon points="367.45,578.56 374.40,575.32 374.40,576.44 367.45,579.41 360.50,580.94 360.50,580.29" fill="#ffff00" stroke="#111" stroke-width="0.45" stroke-linejoin="miter"/>
<polygon points="381.35,571.15 388.30,571.73 388.30,574.20 381.35,575.53 374.40,576.44 374.40,575.32" fill="#00067e" stroke="#111" stroke-width="0.45" stroke-linejoin="miter"/>
<polygon points="395.25,570.37 402.20,573.00 402.20,575.29 395.25,575.57 388.30,574.20 388.30,571.73" fill="#000000" stroke="#000" stroke-width="0.45" stroke-linejoin="miter"/>
<polygon points="409.15,571.40 416.10,572.84 416.10,575.09 409.15,576.19 402.20,575.29 402.20,573.00" fill="#000000" stroke="#000" stroke-width="0.45" stroke-linejoin="miter"/>
<polygon points="423.05,569.82 430.00,569.58 430.00,571.84 423.05,574.81 416.10,575.09 416.10,572.84" fill="#000000" stroke="#000" stroke-width="0.45" stroke-linejoin="miter"/>
<polygon points="436.95,566.24 443.90,565.84 443.90,567.77 436.95,570.96 430.00,571.84 430.00,569.58" fill="#000000" stroke="#000" stroke-width="0.45" stroke-linejoin="miter"/>
<polygon points="450.85,565.10 457.80,566.54 457.80,568.55 450.85,569.39 443.90,567.77 443.90,565.84" fill="#000000" stroke="#000" stroke-width="0.45" stroke-linejoin="miter"/>
<polygon points="464.75,566.70 471.70,566.94 471.70,569.58 464.75,571.28 457.80,568.55 457.80,566.54" fill="#000000" stroke="#000" stroke-width="0.45" stroke-linejoin="miter"/>
<polygon points="478.65,564.56 485.60,563.80 485.60,567.36 478.65,570.94 471.70,569.58 471.70,566.94" fill="#0053ff" stroke="#111" stroke-width="0.45" stroke-linejoin="miter"/>
<polygon points="492.55,560.68 499.50,560.44 499.50,564.23 492.55,568.18 485.60,567.36 485.60,563.80" fill="#00c8aa" stroke="#111" stroke-width="0.45" stroke-linejoin="miter"/>
<polygon points="506.45,558.64 513.40,560.02 513.40,563.82 506.45,566.24 499.50,564.23 499.50,560.44" fill="#23e602" stroke="#111" stroke-width="0.45" stroke-linejoin="miter"/>
<polygon points="341.00,579.00 344.30,577.40 347.60,579.00 347.60,573.80 350.90,572.20 354.20,573.80 354.20,568.60 357.50,567.00 360.80,568.60 360.80,563.40 364.10,561.80 367.40,563.40 367.40,558.20 370.70,556.60 374.00,558.20 374.00,553.00 377.30,551.40 380.60,553.00 380.60,568.00 341.00,588.00" fill="#f4a4a4" stroke="#111" stroke-width="0.4" stroke-linejoin="miter"/>
<line x1="344.30" y1="577.40" x2="344.30" y2="590.40" stroke="#111" stroke-width="0.35" stroke-linecap="butt"/>
<line x1="347.60" y1="579.00" x2="347.60" y2="592.00" stroke="#111" stroke-width="0.35" stroke-linecap="butt"/>
<line x1="350.90" y1="572.20" x2="350.90" y2="585.20" stroke="#111" stroke-width="0.35" stroke-linecap="butt"/>
<line x1="354.20" y1="573.80" x2="354.20" y2="586.80" stroke="#111" stroke-width="0.35" stroke-linecap="butt"/>
<line x1="357.50" y1="567.00" x2="357.50" y2="580.00" stroke="#111" stroke-width="0.35" stroke-linecap="butt"/>
<line x1="360.80" y1="568.60" x2="360.80" y2="581.60" stroke="#111" stroke-width="0.35" stroke-linecap="butt"/>
<line x1="364.10" y1="561.80" x2="364.10" y2="574.80" stroke="#111" stroke-width="0.35" stroke-linecap="butt"/>
<line x1="367.40" y1="563.40" x2="367.40" y2="576.40" stroke="#111" stroke-width="0.35" stroke-linecap="butt"/>
<line x1="370.70" y1="556.60" x2="370.70" y2="569.60" stroke="#111" stroke-width="0.35" stroke-linecap="butt"/>
<line x1="374.00" y1="558.20" x2="374.00" y2="571.20" stroke="#111" stroke-width="0.35" stroke-linecap="butt"/>
<line x1="377.30" y1="551.40" x2="377.30" y2="564.40" stroke="#111" stroke-width="0.35" stroke-linecap="butt"/>
<polygon points="346.60,584.09 339.65,582.21 339.65,595.21 346.60,597.09" fill="#f4a4a4" stroke="#111" stroke-width="0.4" stroke-linejoin="miter"/>
<polygon points="353.55,583.49 346.60,584.09 346.60,597.09 353.55,596.49" fill="#f4a4a4" stroke="#111" stroke-width="0.4" stroke-linejoin="miter"/>
<polygon points="360.50,582.87 353.55,583.49 353.55,596.49 360.50,595.87" fill="#f4a4a4" stroke="#111" stroke-width="0.4" stroke-linejoin="miter"/>
<polygon points="367.45,580.50 360.50,582.87 360.50,595.87 367.45,593.50" fill="#f4a4a4" stroke="#111" stroke-width="0.4" stroke-linejoin="miter"/>
<polygon points="499.50,575.94 492.55,573.95 492.55,591.95 499.50,593.94" fill="#f4a4a4" stroke="#111" stroke-width="0.4" stroke-linejoin="miter"/>
<polygon points="506.45,572.45 499.50,575.94 499.50,593.94 506.45,590.45" fill="#f4a4a4" stroke="#111" stroke-width="0.4" stroke-linejoin="miter"/>
<polygon points="513.40,575.56 506.45,572.45 506.45,590.45 513.40,593.56" fill="#f4a4a4" stroke="#111" stroke-width="0.4" stroke-linejoin="miter"/>
<polygon points="520.35,573.18 513.40,575.56 513.40,593.56 520.35,591.18" fill="#f4a4a4" stroke="#111" stroke-width="0.4" stroke-linejoin="miter"/>
<polygon points="346.60,578.91 353.55,581.88 353.55,583.49 346.60,584.09 339.65,582.21 339.65,578.88" fill="#19e407" stroke="#111" stroke-width="0.45" stroke-linejoin="miter"/>
<polygon points="360.50,580.94 367.45,579.41 367.45,580.50 360.50,582.87 353.55,583.49 353.55,581.88" fill="#ffff00" stroke="#111" stroke-width="0.45" stroke-linejoin="miter"/>
<polygon points="374.40,576.44 381.35,575.53 381.35,577.83 374.40,580.15 367.45,580.50 367.45,579.41" fill="#000000" stroke="#000" stroke-width="0.45" stroke-linejoin="miter"/>
<polygon points="388.30,574.20 395.25,575.57 395.25,577.69 388.30,579.29 381.35,577.83 381.35,575.53" fill="#00067e" stroke="#111" stroke-width="0.45" stroke-linejoin="miter"/>
<polygon points="402.20,575.29 409.15,576.19 409.15,577.87 402.20,579.28 395.25,577.69 395.25,575.57" fill="#000000" stroke="#000" stroke-width="0.45" stroke-linejoin="miter"/>
<polygon points="416.10,575.09 423.05,574.81 423.05,577.12 416.10,578.97 409.15,577.87 409.15,576.19" fill="#000000" stroke="#000" stroke-width="0.45" stroke-linejoin="miter"/>
<polygon points="430.00,571.84 436.95,570.96 436.95,575.08 430.00,578.04 423.05,577.12 423.05,574.81" fill="#dffc00" stroke="#111" stroke-width="0.45" stroke-linejoin="miter"/>
<polygon points="443.90,567.77 450.85,569.39 450.85,574.34 443.90,576.93 436.95,575.08 436.95,570.96" fill="#ff8000" stroke="#111" stroke-width="0.45" stroke-linejoin="miter"/>
<polygon points="457.80,568.55 464.75,571.28 464.75,575.90 457.80,577.61 450.85,574.34 450.85,569.39" fill="#dffc00" stroke="#111" stroke-width="0.45" stroke-linejoin="miter"/>
<polygon points="471.70,569.58 478.65,570.94 478.65,576.20 471.70,579.31 464.75,575.90 464.75,571.28" fill="#000000" stroke="#000" stroke-width="0.45" stroke-linejoin="miter"/>
<polygon points="485.60,567.36 492.55,568.18 492.55,573.95 485.60,578.30 478.65,576.20 478.65,570.94" fill="#19e407" stroke="#111" stroke-width="0.45" stroke-linejoin="miter"/>
<polygon points="499.50,564.23 506.45,566.24 506.45,572.45 499.50,575.94 492.55,573.95 492.55,568.18" fill="#19e407" stroke="#111" stroke-width="0.45" stroke-linejoin="miter"/>
<polygon points="513.40,563.82 520.35,567.52 520.35,573.18 513.40,575.56 506.45,572.45 506.45,566.24" fill="#23e602" stroke="#111" stroke-width="0.45" stroke-linejoin="miter"/>
<polygon points="353.55,585.86 346.60,585.02 346.60,598.02 353.55,598.86" fill="#f4a4a4" stroke="#111" stroke-width="0.4" stroke-linejoin="miter"/>
<polygon points="360.50,584.59 353.55,585.86 353.55,598.86 360.50,597.59" fill="#f4a4a4" stroke="#111" stroke-width="0.4" stroke-linejoin="miter"/>
<polygon points="367.45,586.30 360.50,584.59 360.50,597.59 367.45,599.30" fill="#f4a4a4" stroke="#111" stroke-width="0.4" stroke-linejoin="miter"/>
<polygon points="374.40,584.28 367.45,586.30 367.45,599.30 374.40,597.28" fill="#f4a4a4" stroke="#111" stroke-width="0.4" stroke-linejoin="miter"/>
<polygon points="353.55,583.49 360.50,582.87 360.50,584.59 353.55,585.86 346.60,585.02 346.60,584.09" fill="#000000" stroke="#000" stroke-width="0.45" stroke-linejoin="miter"/>
<polygon points="367.45,580.50 374.40,580.15 374.40,584.28 367.45,586.30 360.50,584.59 360.50,582.87" fill="#ffff00" stroke="#111" stroke-width="0.45" stroke-linejoin="miter"/>
<polygon points="381.35,577.83 388.30,579.29 388.30,584.63 381.35,587.81 374.40,584.28 374.40,580.15" fill="#19e407" stroke="#111" stroke-width="0.45" stroke-linejoin="miter"/>
<polygon points="395.25,577.69 402.20,579.28 402.20,583.80 395.25,587.74 388.30,584.63 388.30,579.29" fill="#000000" stroke="#000" stroke-width="0.45" stroke-linejoin="miter"/>
<polygon points="409.15,577.87 416.10,578.97 416.10,582.59 409.15,585.65 402.20,583.80 402.20,579.28" fill="#000000" stroke="#000" stroke-width="0.45" stroke-linejoin="miter"/>
<polygon points="423.05,577.12 430.00,578.04 430.00,582.01 423.05,584.32 416.10,582.59 416.10,578.97" fill="#19e407" stroke="#111" stroke-width="0.45" stroke-linejoin="miter"/>
<polygon points="436.95,575.08 443.90,576.93 443.90,581.76 436.95,584.03 430.00,582.01 430.00,578.04" fill="#dffc00" stroke="#111" stroke-width="0.45" stroke-linejoin="miter"/>
<polygon points="450.85,574.34 457.80,577.61 457.80,582.67 450.85,584.27 443.90,581.76 443.90,576.93" fill="#dffc00" stroke="#111" stroke-width="0.45" stroke-linejoin="miter"/>
<polygon points="464.75,575.90 471.70,579.31 471.70,585.86 464.75,587.11 457.80,582.67 457.80,577.61" fill="#19e407" stroke="#111" stroke-width="0.45" stroke-linejoin="miter"/>
<polygon points="478.65,576.20 485.60,578.30 485.60,584.86 478.65,589.92 471.70,585.86 471.70,579.31" fill="#19e407" stroke="#111" stroke-width="0.45" stroke-linejoin="miter"/>
<polygon points="492.55,573.95 499.50,575.94 499.50,581.45 492.55,585.62 485.60,584.86 485.60,578.30" fill="#00067e" stroke="#111" stroke-width="0.45" stroke-linejoin="miter"/>
<polygon points="506.45,572.45 513.40,575.56 513.40,580.83 506.45,583.25 499.50,581.45 499.50,575.94" fill="#effd00" stroke="#111" stroke-width="0.45" stroke-linejoin="miter"/>
<polygon points="360.50,590.79 353.55,588.50 353.55,601.50 360.50,603.79" fill="#f4a4a4" stroke="#111" stroke-width="0.4" stroke-linejoin="miter"/>
<polygon points="367.45,590.47 360.50,590.79 360.50,603.79 367.45,603.47" fill="#f4a4a4" stroke="#111" stroke-width="0.4" stroke-linejoin="miter"/>
<polygon points="360.50,584.59 367.45,586.30 367.45,590.47 360.50,590.79 353.55,588.50 353.55,585.86" fill="#000000" stroke="#000" stroke-width="0.45" stroke-linejoin="miter"/>
<polygon points="374.40,584.28 381.35,587.81 381.35,593.71 374.40,593.74 367.45,590.47 367.45,586.30" fill="#00c8aa" stroke="#111" stroke-width="0.45" stroke-linejoin="miter"/>
<polygon points="388.30,584.63 395.25,587.74 395.25,593.76 388.30,595.90 381.35,593.71 381.35,587.81" fill="#000062" stroke="#111" stroke-width="0.45" stroke-linejoin="miter"/>
<polygon points="402.20,583.80 409.15,585.65 409.15,590.60 402.20,594.00 395.25,593.76 395.25,587.74" fill="#000062" stroke="#111" stroke-width="0.45" stroke-linejoin="miter"/>
<polygon points="416.10,582.59 423.05,584.32 423.05,588.76 416.10,591.47 409.15,590.60 409.15,585.65" fill="#19e407" stroke="#111" stroke-width="0.45" stroke-linejoin="miter"/>
<polygon points="430.00,582.01 436.95,584.03 436.95,588.63 430.00,591.01 423.05,588.76 423.05,584.32" fill="#19e407" stroke="#111" stroke-width="0.45" stroke-linejoin="miter"/>
<polygon points="443.90,581.76 450.85,584.27 450.85,589.05 443.90,591.31 436.95,588.63 436.95,584.03" fill="#19e407" stroke="#111" stroke-width="0.45" stroke-linejoin="miter"/>
<polygon points="457.80,582.67 464.75,587.11 464.75,592.71 457.80,592.72 450.85,589.05 450.85,584.27" fill="#19e407" stroke="#111" stroke-width="0.45" stroke-linejoin="miter"/>
<polygon points="471.70,585.86 478.65,589.92 478.65,596.41 471.70,598.09 464.75,592.71 464.75,587.11" fill="#19e407" stroke="#111" stroke-width="0.45" stroke-linejoin="miter"/>
<polygon points="485.60,584.86 492.55,585.62 492.55,590.61 485.60,596.27 478.65,596.41 478.65,589.92" fill="#000000" stroke="#000" stroke-width="0.45" stroke-linejoin="miter"/>
<polygon points="499.50,581.45 506.45,583.25 506.45,587.47 499.50,590.36 492.55,590.61 492.55,585.62" fill="#00067e" stroke="#111" stroke-width="0.45" stroke-linejoin="miter"/>
<polygon points="367.45,590.47 374.40,593.74 374.40,595.35 367.45,595.69 360.50,593.75 360.50,590.79" fill="#00c8aa" stroke="#111" stroke-width="0.45" stroke-linejoin="miter"/>
<polygon points="381.35,593.71 388.30,595.90 388.30,596.58 381.35,596.69 374.40,595.35 374.40,593.74" fill="#000000" stroke="#000" stroke-width="0.45" stroke-linejoin="miter"/>
<polygon points="395.25,593.76 402.20,594.00 402.20,595.98 395.25,597.07 388.30,596.58 388.30,595.90" fill="#000062" stroke="#111" stroke-width="0.45" stroke-linejoin="miter"/>
<polygon points="409.15,590.60 416.10,591.47 416.10,595.51 409.15,597.23 402.20,595.98 402.20,594.00" fill="#00c8aa" stroke="#111" stroke-width="0.45" stroke-linejoin="miter"/>
<polygon points="423.05,588.76 430.00,591.01 430.00,596.38 423.05,598.51 416.10,595.51 416.10,591.47" fill="#19e407" stroke="#111" stroke-width="0.45" stroke-linejoin="miter"/>
<polygon points="436.95,588.63 443.90,591.31 443.90,597.19 436.95,600.15 430.00,596.38 430.00,591.01" fill="#19e407" stroke="#111" stroke-width="0.45" stroke-linejoin="miter"/>
<polygon points="450.85,589.05 457.80,592.72 457.80,597.98 450.85,600.63 443.90,597.19 443.90,591.31" fill="#19e407" stroke="#111" stroke-width="0.45" stroke-linejoin="miter"/>
<polygon points="464.75,592.71 471.70,598.09 471.70,601.48 464.75,601.72 457.80,597.98 457.80,592.72" fill="#00c8aa" stroke="#111" stroke-width="0.45" stroke-linejoin="miter"/>
<polygon points="478.65,596.41 485.60,596.27 485.60,599.26 478.65,602.51 471.70,601.48 471.70,598.09" fill="#000000" stroke="#000" stroke-width="0.45" stroke-linejoin="miter"/>
<polygon points="492.55,590.61 499.50,590.36 499.50,594.11 492.55,597.65 485.60,599.26 485.60,596.27" fill="#00067e" stroke="#111" stroke-width="0.45" stroke-linejoin="miter"/>
<polygon points="457.80,610.81 450.85,607.92 450.85,617.92 457.80,620.81" fill="#f4a4a4" stroke="#111" stroke-width="0.4" stroke-linejoin="miter"/>
<polygon points="464.75,606.58 457.80,610.81 457.80,620.81 464.75,616.58" fill="#f4a4a4" stroke="#111" stroke-width="0.4" stroke-linejoin="miter"/>
<polygon points="471.70,607.90 464.75,606.58 464.75,616.58 471.70,617.90" fill="#f4a4a4" stroke="#111" stroke-width="0.4" stroke-linejoin="miter"/>
<polygon points="478.65,604.61 471.70,607.90 471.70,617.90 478.65,614.61" fill="#f4a4a4" stroke="#111" stroke-width="0.4" stroke-linejoin="miter"/>
<polygon points="374.40,595.35 381.35,596.69 381.35,599.16 374.40,600.75 367.45,598.86 367.45,595.69" fill="#00c8aa" stroke="#111" stroke-width="0.45" stroke-linejoin="miter"/>
<polygon points="388.30,596.58 395.25,597.07 395.25,599.80 388.30,601.18 381.35,599.16 381.35,596.69" fill="#000062" stroke="#111" stroke-width="0.45" stroke-linejoin="miter"/>
<polygon points="402.20,595.98 409.15,597.23 409.15,601.44 402.20,602.54 395.25,599.80 395.25,597.07" fill="#000000" stroke="#000" stroke-width="0.45" stroke-linejoin="miter"/>
<polygon points="416.10,595.51 423.05,598.51 423.05,604.49 416.10,605.62 409.15,601.44 409.15,597.23" fill="#0064ff" stroke="#111" stroke-width="0.45" stroke-linejoin="miter"/>
<polygon points="430.00,596.38 436.95,600.15 436.95,607.44 430.00,609.76 423.05,604.49 423.05,598.51" fill="#000000" stroke="#000" stroke-width="0.45" stroke-linejoin="miter"/>
<polygon points="443.90,597.19 450.85,600.63 450.85,607.92 443.90,612.10 436.95,607.44 436.95,600.15" fill="#00c8aa" stroke="#111" stroke-width="0.45" stroke-linejoin="miter"/>
<polygon points="457.80,597.98 464.75,601.72 464.75,606.58 457.80,610.81 450.85,607.92 450.85,600.63" fill="#19e407" stroke="#111" stroke-width="0.45" stroke-linejoin="miter"/>
<polygon points="471.70,601.48 478.65,602.51 478.65,604.61 471.70,607.90 464.75,606.58 464.75,601.72" fill="#19e407" stroke="#111" stroke-width="0.45" stroke-linejoin="miter"/>
<polygon points="485.60,599.26 492.55,597.65 492.55,600.78 485.60,604.21 478.65,604.61 478.65,602.51" fill="#000000" stroke="#000" stroke-width="0.45" stroke-linejoin="miter"/>
<polygon points="381.35,606.62 374.40,604.52 374.40,612.52 381.35,614.62" fill="#f4a4a4" stroke="#111" stroke-width="0.4" stroke-linejoin="miter"/>
<polygon points="388.30,605.06 381.35,606.62 381.35,614.62 388.30,613.06" fill="#f4a4a4" stroke="#111" stroke-width="0.4" stroke-linejoin="miter"/>
<polygon points="395.25,607.82 388.30,605.06 388.30,613.06 395.25,615.82" fill="#f4a4a4" stroke="#111" stroke-width="0.4" stroke-linejoin="miter"/>
<polygon points="402.20,606.97 395.25,607.82 395.25,615.82 402.20,614.97" fill="#f4a4a4" stroke="#111" stroke-width="0.4" stroke-linejoin="miter"/>
<polygon points="409.15,611.20 402.20,606.97 402.20,614.97 409.15,619.20" fill="#f4a4a4" stroke="#111" stroke-width="0.4" stroke-linejoin="miter"/>
<polygon points="416.10,611.25 409.15,611.20 409.15,619.20 416.10,619.25" fill="#f4a4a4" stroke="#111" stroke-width="0.4" stroke-linejoin="miter"/>
<polygon points="464.75,618.56 457.80,618.03 457.80,628.03 464.75,628.56" fill="#f4a4a4" stroke="#111" stroke-width="0.4" stroke-linejoin="miter"/>
<polygon points="471.70,612.80 464.75,618.56 464.75,628.56 471.70,622.80" fill="#f4a4a4" stroke="#111" stroke-width="0.4" stroke-linejoin="miter"/>
<polygon points="478.65,612.44 471.70,612.80 471.70,622.80 478.65,622.44" fill="#f4a4a4" stroke="#111" stroke-width="0.4" stroke-linejoin="miter"/>
<polygon points="485.60,607.98 478.65,612.44 478.65,622.44 485.60,617.98" fill="#f4a4a4" stroke="#111" stroke-width="0.4" stroke-linejoin="miter"/>
<polygon points="381.35,599.16 388.30,601.18 388.30,605.06 381.35,606.62 374.40,604.52 374.40,600.75" fill="#0053ff" stroke="#111" stroke-width="0.45" stroke-linejoin="miter"/>
<polygon points="395.25,599.80 402.20,602.54 402.20,606.97 395.25,607.82 388.30,605.06 388.30,601.18" fill="#19e407" stroke="#111" stroke-width="0.45" stroke-linejoin="miter"/>
<polygon points="409.15,601.44 416.10,605.62 416.10,611.25 409.15,611.20 402.20,606.97 402.20,602.54" fill="#000000" stroke="#000" stroke-width="0.45" stroke-linejoin="miter"/>
<polygon points="423.05,604.49 430.00,609.76 430.00,616.95 423.05,617.14 416.10,611.25 416.10,605.62" fill="#00067e" stroke="#111" stroke-width="0.45" stroke-linejoin="miter"/>
<polygon points="436.95,607.44 443.90,612.10 443.90,620.15 436.95,622.73 430.00,616.95 430.00,609.76" fill="#000000" stroke="#000" stroke-width="0.45" stroke-linejoin="miter"/>
<polygon points="450.85,607.92 457.80,610.81 457.80,618.03 450.85,623.37 443.90,620.15 443.90,612.10" fill="#000000" stroke="#000" stroke-width="0.45" stroke-linejoin="miter"/>
<polygon points="464.75,606.58 471.70,607.90 471.70,612.80 464.75,618.56 457.80,618.03 457.80,610.81" fill="#000000" stroke="#000" stroke-width="0.45" stroke-linejoin="miter"/>
<polygon points="478.65,604.61 485.60,604.21 485.60,607.98 478.65,612.44 471.70,612.80 471.70,607.90" fill="#19e407" stroke="#111" stroke-width="0.45" stroke-linejoin="miter"/>
<polygon points="388.30,612.83 381.35,610.46 381.35,618.46 388.30,620.83" fill="#f4a4a4" stroke="#111" stroke-width="0.4" stroke-linejoin="miter"/>
<polygon points="395.25,611.81 388.30,612.83 388.30,620.83 395.25,619.81" fill="#f4a4a4" stroke="#111" stroke-width="0.4" stroke-linejoin="miter"/>
<polygon points="388.30,605.06 395.25,607.82 395.25,611.81 388.30,612.83 381.35,610.46 381.35,606.62" fill="#000000" stroke="#000" stroke-width="0.45" stroke-linejoin="miter"/>
<polygon points="402.20,606.97 409.15,611.20 409.15,615.61 402.20,615.25 395.25,611.81 395.25,607.82" fill="#000000" stroke="#000" stroke-width="0.45" stroke-linejoin="miter"/>
<polygon points="416.10,611.25 423.05,617.14 423.05,622.30 416.10,620.68 409.15,615.61 409.15,611.20" fill="#000000" stroke="#000" stroke-width="0.45" stroke-linejoin="miter"/>
<polygon points="430.00,616.95 436.95,622.73 436.95,628.59 430.00,627.90 423.05,622.30 423.05,617.14" fill="#000000" stroke="#000" stroke-width="0.45" stroke-linejoin="miter"/>
<polygon points="443.90,620.15 450.85,623.37 450.85,629.30 443.90,631.95 436.95,628.59 436.95,622.73" fill="#000000" stroke="#000" stroke-width="0.45" stroke-linejoin="miter"/>
<polygon points="457.80,618.03 464.75,618.56 464.75,623.78 457.80,629.15 450.85,629.30 450.85,623.37" fill="#000000" stroke="#000" stroke-width="0.45" stroke-linejoin="miter"/>
<polygon points="471.70,612.80 478.65,612.44 478.65,616.80 471.70,622.11 464.75,623.78 464.75,618.56" fill="#000000" stroke="#000" stroke-width="0.45" stroke-linejoin="miter"/>
</g>
<text x="428.90" y="331.60" font-size="13.4" font-weight="bold" text-anchor="middle" fill="#000">Superior</text>
<text x="435.40" y="474.80" font-size="13.4" font-weight="bold" text-anchor="middle" fill="#000">Inferior</text>
<text x="431.40" y="518.20" font-size="13.4" font-weight="bold" text-anchor="middle" fill="#000">Superior</text>
<text x="441.00" y="653.80" font-size="13.4" font-weight="bold" text-anchor="middle" fill="#000">Inferior</text>
<text x="334.60" y="401.00" font-size="13.4" font-weight="bold" text-anchor="middle" fill="#000" transform="rotate(-90 334.60 401.00)">Nasal</text>
<text x="335.20" y="587.00" font-size="13.4" font-weight="bold" text-anchor="middle" fill="#000" transform="rotate(-90 335.20 587.00)">Nasal</text>
<text x="539.60" y="403.50" font-size="13.4" font-weight="bold" text-anchor="middle" fill="#000" transform="rotate(-90 539.60 403.50)">Temporal</text>
<text x="540.20" y="591.00" font-size="13.4" font-weight="bold" text-anchor="middle" fill="#000" transform="rotate(-90 540.20 591.00)">Temporal</text>
<defs><linearGradient id="cb1" x1="0" x2="1" y1="0" y2="0">
<stop offset="0.000" stop-color="rgb(0,0,0)"/>
<stop offset="0.051" stop-color="rgb(0,0,110)"/>
<stop offset="0.102" stop-color="rgb(0,50,255)"/>
<stop offset="0.170" stop-color="rgb(0,150,255)"/>
<stop offset="0.227" stop-color="rgb(0,200,170)"/>
<stop offset="0.283" stop-color="rgb(0,220,20)"/>
<stop offset="0.374" stop-color="rgb(40,232,0)"/>
<stop offset="0.442" stop-color="rgb(160,245,0)"/>
<stop offset="0.510" stop-color="rgb(255,255,0)"/>
<stop offset="0.612" stop-color="rgb(255,150,0)"/>
<stop offset="0.714" stop-color="rgb(255,50,0)"/>
<stop offset="0.793" stop-color="rgb(255,0,0)"/>
<stop offset="0.850" stop-color="rgb(255,40,40)"/>
<stop offset="0.918" stop-color="rgb(255,160,160)"/>
<stop offset="1.000" stop-color="rgb(255,255,255)"/>
</linearGradient></defs>
<rect x="337.20" y="477.00" width="164.40" height="6.00" fill="url(#cb1)" stroke="#333" stroke-width="0.7"/>
<defs><linearGradient id="cb2" x1="0" x2="1" y1="0" y2="0">
<stop offset="0.000" stop-color="rgb(0,0,0)"/>
<stop offset="0.051" stop-color="rgb(0,0,110)"/>
<stop offset="0.102" stop-color="rgb(0,50,255)"/>
<stop offset="0.170" stop-color="rgb(0,150,255)"/>
<stop offset="0.227" stop-color="rgb(0,200,170)"/>
<stop offset="0.283" stop-color="rgb(0,220,20)"/>
<stop offset="0.374" stop-color="rgb(40,232,0)"/>
<stop offset="0.442" stop-color="rgb(160,245,0)"/>
<stop offset="0.510" stop-color="rgb(255,255,0)"/>
<stop offset="0.612" stop-color="rgb(255,150,0)"/>
<stop offset="0.714" stop-color="rgb(255,50,0)"/>
<stop offset="0.793" stop-color="rgb(255,0,0)"/>
<stop offset="0.850" stop-color="rgb(255,40,40)"/>
<stop offset="0.918" stop-color="rgb(255,160,160)"/>
<stop offset="1.000" stop-color="rgb(255,255,255)"/>
</linearGradient></defs>
<rect x="340.20" y="657.20" width="164.60" height="6.00" fill="url(#cb2)" stroke="#333" stroke-width="0.7"/>
<text x="339.20" y="498.01" font-size="7.0" text-anchor="middle" fill="#1a1a1a">0.0</text>
<text x="354.70" y="498.01" font-size="7.0" text-anchor="middle" fill="#1a1a1a">0.9</text>
<text x="370.60" y="498.01" font-size="7.0" text-anchor="middle" fill="#1a1a1a">1.8</text>
<text x="387.30" y="498.01" font-size="7.0" text-anchor="middle" fill="#1a1a1a">2.7</text>
<text x="404.90" y="498.01" font-size="7.0" text-anchor="middle" fill="#1a1a1a">3.6</text>
<text x="422.00" y="498.01" font-size="7.0" text-anchor="middle" fill="#1a1a1a">4.5</text>
<text x="438.80" y="498.01" font-size="7.0" text-anchor="middle" fill="#1a1a1a">5.4</text>
<text x="454.20" y="498.01" font-size="7.0" text-anchor="middle" fill="#1a1a1a">6.3</text>
<text x="469.70" y="498.01" font-size="7.0" text-anchor="middle" fill="#1a1a1a">7.2</text>
<text x="484.80" y="498.01" font-size="7.0" text-anchor="middle" fill="#1a1a1a">8.1</text>
<text x="500.90" y="498.01" font-size="7.0" text-anchor="start" fill="#1a1a1a" textLength="36.5" lengthAdjust="spacingAndGlyphs">9.0 nV/deg<tspan font-size="4.4" dy="-2.6">2</tspan></text>
<text x="342.20" y="678.11" font-size="7.0" text-anchor="middle" fill="#1a1a1a">0.0</text>
<text x="357.70" y="678.11" font-size="7.0" text-anchor="middle" fill="#1a1a1a">0.9</text>
<text x="373.60" y="678.11" font-size="7.0" text-anchor="middle" fill="#1a1a1a">1.8</text>
<text x="390.30" y="678.11" font-size="7.0" text-anchor="middle" fill="#1a1a1a">2.7</text>
<text x="407.90" y="678.11" font-size="7.0" text-anchor="middle" fill="#1a1a1a">3.6</text>
<text x="425.00" y="678.11" font-size="7.0" text-anchor="middle" fill="#1a1a1a">4.5</text>
<text x="441.80" y="678.11" font-size="7.0" text-anchor="middle" fill="#1a1a1a">5.4</text>
<text x="457.20" y="678.11" font-size="7.0" text-anchor="middle" fill="#1a1a1a">6.3</text>
<text x="472.70" y="678.11" font-size="7.0" text-anchor="middle" fill="#1a1a1a">7.2</text>
<text x="487.80" y="678.11" font-size="7.0" text-anchor="middle" fill="#1a1a1a">8.1</text>
<text x="504.60" y="678.11" font-size="7.0" text-anchor="start" fill="#1a1a1a" textLength="36.5" lengthAdjust="spacingAndGlyphs">9.0 nV/deg<tspan font-size="4.4" dy="-2.6">2</tspan></text>
<text x="20.20" y="692.59" font-size="14.5" font-weight="bold" text-anchor="start" fill="#000">E</text>
<line x1="64.20" y1="702.80" x2="64.20" y2="844.40" stroke="#000" stroke-width="1.9" stroke-linecap="butt"/>
<line x1="63.25" y1="843.50" x2="270.40" y2="843.50" stroke="#000" stroke-width="1.9" stroke-linecap="butt"/>
<line x1="61.40" y1="829.52" x2="64.20" y2="829.52" stroke="#000" stroke-width="1.5" stroke-linecap="butt"/>
<line x1="61.40" y1="815.54" x2="64.20" y2="815.54" stroke="#000" stroke-width="1.5" stroke-linecap="butt"/>
<line x1="61.40" y1="801.56" x2="64.20" y2="801.56" stroke="#000" stroke-width="1.5" stroke-linecap="butt"/>
<line x1="61.40" y1="787.58" x2="64.20" y2="787.58" stroke="#000" stroke-width="1.5" stroke-linecap="butt"/>
<line x1="61.40" y1="759.62" x2="64.20" y2="759.62" stroke="#000" stroke-width="1.5" stroke-linecap="butt"/>
<line x1="61.40" y1="745.64" x2="64.20" y2="745.64" stroke="#000" stroke-width="1.5" stroke-linecap="butt"/>
<line x1="61.40" y1="731.66" x2="64.20" y2="731.66" stroke="#000" stroke-width="1.5" stroke-linecap="butt"/>
<line x1="61.40" y1="717.68" x2="64.20" y2="717.68" stroke="#000" stroke-width="1.5" stroke-linecap="butt"/>
<line x1="59.40" y1="843.50" x2="64.20" y2="843.50" stroke="#000" stroke-width="1.7" stroke-linecap="butt"/>
<text x="59.40" y="846.94" font-size="9.6" font-weight="bold" text-anchor="end" fill="#000">0</text>
<line x1="59.40" y1="773.60" x2="64.20" y2="773.60" stroke="#000" stroke-width="1.7" stroke-linecap="butt"/>
<text x="59.40" y="777.04" font-size="9.6" font-weight="bold" text-anchor="end" fill="#000">5</text>
<line x1="59.40" y1="703.70" x2="64.20" y2="703.70" stroke="#000" stroke-width="1.7" stroke-linecap="butt"/>
<text x="59.40" y="707.14" font-size="9.6" font-weight="bold" text-anchor="end" fill="#000">10</text>
<line x1="98.70" y1="843.50" x2="98.70" y2="848.10" stroke="#000" stroke-width="1.7" stroke-linecap="butt"/>
<text x="98.70" y="858.62" font-size="10.1" font-weight="bold" text-anchor="middle" fill="#000">All areas</text>
<line x1="166.80" y1="843.50" x2="166.80" y2="848.10" stroke="#000" stroke-width="1.7" stroke-linecap="butt"/>
<text x="166.80" y="858.62" font-size="10.1" font-weight="bold" text-anchor="middle" fill="#000">Superior</text>
<line x1="235.00" y1="843.50" x2="235.00" y2="848.10" stroke="#000" stroke-width="1.7" stroke-linecap="butt"/>
<text x="235.00" y="858.62" font-size="10.1" font-weight="bold" text-anchor="middle" fill="#000">Inferior</text>
<text x="40.20" y="773.50" font-size="11.6" font-weight="bold" text-anchor="middle" fill="#000" transform="rotate(-90 40.20 773.50)">Amplitude [nV/deg<tspan font-size="7.5" dy="-4">2</tspan><tspan dy="4">]</tspan></text>
<rect x="209.20" y="697.50" width="16.60" height="5.20" fill="#fff" stroke="#000" stroke-width="1.4"/>
<rect x="209.20" y="713.20" width="16.60" height="5.20" fill="#000" stroke="#000" stroke-width="1.4"/>
<text x="229.40" y="704.04" font-size="11" text-anchor="start" fill="#000">pre</text>
<text x="229.40" y="719.54" font-size="11" text-anchor="start" fill="#000">1000 lux</text>
<line x1="86.20" y1="776.00" x2="86.20" y2="769.00" stroke="#000" stroke-width="1.6" stroke-linecap="butt"/>
<line x1="81.40" y1="769.00" x2="91.00" y2="769.00" stroke="#000" stroke-width="1.6" stroke-linecap="butt"/>
<rect x="77.95" y="775.75" width="16.60" height="67.75" fill="#fff" stroke="#000" stroke-width="1.7"/>
<line x1="111.70" y1="828.00" x2="111.70" y2="825.60" stroke="#000" stroke-width="1.6" stroke-linecap="butt"/>
<line x1="106.90" y1="825.60" x2="116.50" y2="825.60" stroke="#000" stroke-width="1.6" stroke-linecap="butt"/>
<rect x="103.35" y="827.85" width="16.70" height="15.65" fill="#000" stroke="#000" stroke-width="1.7"/>
<line x1="154.40" y1="752.00" x2="154.40" y2="742.20" stroke="#000" stroke-width="1.6" stroke-linecap="butt"/>
<line x1="149.60" y1="742.20" x2="159.20" y2="742.20" stroke="#000" stroke-width="1.6" stroke-linecap="butt"/>
<rect x="146.35" y="751.25" width="16.10" height="92.25" fill="#fff" stroke="#000" stroke-width="1.7"/>
<line x1="180.00" y1="816.50" x2="180.00" y2="813.00" stroke="#000" stroke-width="1.6" stroke-linecap="butt"/>
<line x1="175.20" y1="813.00" x2="184.80" y2="813.00" stroke="#000" stroke-width="1.6" stroke-linecap="butt"/>
<rect x="171.75" y="816.35" width="16.60" height="27.15" fill="#000" stroke="#000" stroke-width="1.7"/>
<line x1="222.30" y1="795.00" x2="222.30" y2="789.60" stroke="#000" stroke-width="1.6" stroke-linecap="butt"/>
<line x1="217.50" y1="789.60" x2="227.10" y2="789.60" stroke="#000" stroke-width="1.6" stroke-linecap="butt"/>
<rect x="214.05" y="794.55" width="16.50" height="48.95" fill="#fff" stroke="#000" stroke-width="1.7"/>
<line x1="247.90" y1="824.50" x2="247.90" y2="821.60" stroke="#000" stroke-width="1.6" stroke-linecap="butt"/>
<line x1="243.10" y1="821.60" x2="252.70" y2="821.60" stroke="#000" stroke-width="1.6" stroke-linecap="butt"/>
<rect x="239.85" y="824.55" width="16.10" height="18.95" fill="#000" stroke="#000" stroke-width="1.7"/>
<line x1="87.80" y1="756.80" x2="118.80" y2="756.80" stroke="#000" stroke-width="1.7" stroke-linecap="butt"/>
<text x="103.50" y="758.40" font-size="19" text-anchor="middle" fill="#000" stroke="#000" stroke-width="0.35">****</text>
<line x1="156.50" y1="729.00" x2="187.80" y2="729.00" stroke="#000" stroke-width="1.7" stroke-linecap="butt"/>
<text x="172.35" y="730.60" font-size="19" text-anchor="middle" fill="#000" stroke="#000" stroke-width="0.35">****</text>
<line x1="156.50" y1="736.40" x2="222.20" y2="736.40" stroke="#000" stroke-width="1.7" stroke-linecap="butt"/>
<line x1="224.00" y1="779.00" x2="254.90" y2="779.00" stroke="#000" stroke-width="1.7" stroke-linecap="butt"/>
<text x="239.65" y="780.60" font-size="19" text-anchor="middle" fill="#000" stroke="#000" stroke-width="0.35">****</text>
<text x="303.20" y="692.19" font-size="14.5" font-weight="bold" text-anchor="start" fill="#000">F</text>
<line x1="338.30" y1="710.30" x2="338.30" y2="849.50" stroke="#000" stroke-width="1.9" stroke-linecap="butt"/>
<line x1="337.35" y1="848.60" x2="544.00" y2="848.60" stroke="#000" stroke-width="1.9" stroke-linecap="butt"/>
<line x1="335.50" y1="814.25" x2="338.30" y2="814.25" stroke="#000" stroke-width="1.5" stroke-linecap="butt"/>
<line x1="335.50" y1="745.55" x2="338.30" y2="745.55" stroke="#000" stroke-width="1.5" stroke-linecap="butt"/>
<line x1="333.70" y1="848.60" x2="338.30" y2="848.60" stroke="#000" stroke-width="1.7" stroke-linecap="butt"/>
<text x="332.70" y="852.04" font-size="9.6" font-weight="bold" text-anchor="end" fill="#000">0</text>
<line x1="333.70" y1="779.90" x2="338.30" y2="779.90" stroke="#000" stroke-width="1.7" stroke-linecap="butt"/>
<text x="332.70" y="783.34" font-size="9.6" font-weight="bold" text-anchor="end" fill="#000">50</text>
<line x1="333.70" y1="711.20" x2="338.30" y2="711.20" stroke="#000" stroke-width="1.7" stroke-linecap="butt"/>
<text x="332.70" y="714.64" font-size="9.6" font-weight="bold" text-anchor="end" fill="#000">100</text>
<line x1="372.70" y1="848.60" x2="372.70" y2="853.20" stroke="#000" stroke-width="1.7" stroke-linecap="butt"/>
<text x="372.70" y="864.02" font-size="10.1" font-weight="bold" text-anchor="middle" fill="#000">All areas</text>
<line x1="440.90" y1="848.60" x2="440.90" y2="853.20" stroke="#000" stroke-width="1.7" stroke-linecap="butt"/>
<text x="440.90" y="864.02" font-size="10.1" font-weight="bold" text-anchor="middle" fill="#000">Superior</text>
<line x1="509.00" y1="848.60" x2="509.00" y2="853.20" stroke="#000" stroke-width="1.7" stroke-linecap="butt"/>
<text x="509.00" y="864.02" font-size="10.1" font-weight="bold" text-anchor="middle" fill="#000">Inferior</text>
<text x="309.40" y="780.00" font-size="11.3" font-weight="bold" text-anchor="middle" fill="#000" transform="rotate(-90 309.40 780.00)">The remaining response (%)</text>
<line x1="372.50" y1="810.00" x2="372.50" y2="800.50" stroke="#000" stroke-width="1.6" stroke-linecap="butt"/>
<line x1="361.30" y1="800.50" x2="383.70" y2="800.50" stroke="#000" stroke-width="1.6" stroke-linecap="butt"/>
<rect x="349.85" y="809.55" width="45.40" height="39.05" fill="#fff" stroke="#000" stroke-width="1.7"/>
<line x1="440.90" y1="804.00" x2="440.90" y2="797.60" stroke="#000" stroke-width="1.6" stroke-linecap="butt"/>
<line x1="430.00" y1="797.60" x2="451.80" y2="797.60" stroke="#000" stroke-width="1.6" stroke-linecap="butt"/>
<rect x="418.55" y="803.85" width="44.70" height="44.75" fill="#fff" stroke="#000" stroke-width="1.7"/>
<line x1="509.10" y1="789.00" x2="509.10" y2="774.10" stroke="#000" stroke-width="1.6" stroke-linecap="butt"/>
<line x1="498.00" y1="774.10" x2="520.20" y2="774.10" stroke="#000" stroke-width="1.6" stroke-linecap="butt"/>
<rect x="486.75" y="788.15" width="44.70" height="60.45" fill="#fff" stroke="#000" stroke-width="1.7"/>
</svg>
</body>
</html>
